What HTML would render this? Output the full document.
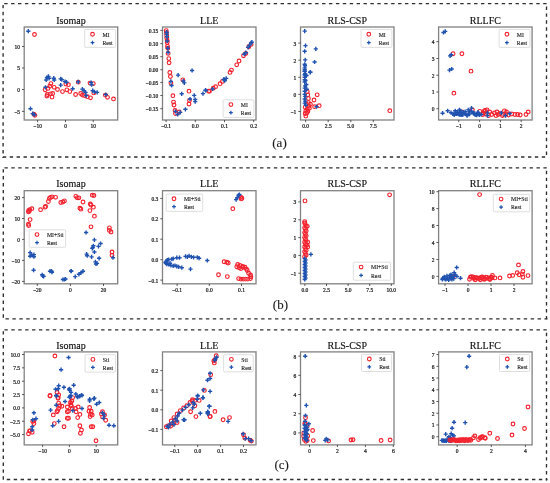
<!DOCTYPE html><html><head><meta charset="utf-8"><style>html,body{margin:0;padding:0;background:#fff;width:550px;height:483px;overflow:hidden}svg{display:block;will-change:transform}text{font-family:"Liberation Serif",serif;fill:#1a1a1a;stroke:#1a1a1a;stroke-width:0.12px}</style></head><body>
<svg width="550" height="483" viewBox="0 0 550 483">
<line x1="4.2" y1="3.6" x2="547.5" y2="3.6" stroke="#2e2e2e" stroke-width="1.35" stroke-dasharray="3.4 3.51"/>
<line x1="2.8" y1="157" x2="547.5" y2="157" stroke="#2e2e2e" stroke-width="1.35" stroke-dasharray="3.4 3.51"/>
<line x1="3.1" y1="4.9" x2="3.1" y2="158" stroke="#2e2e2e" stroke-width="1.35" stroke-dasharray="3.4 3.51"/>
<line x1="546.5" y1="6.5" x2="546.5" y2="158" stroke="#2e2e2e" stroke-width="1.35" stroke-dasharray="3.4 3.51"/>
<line x1="4.4" y1="167.9" x2="547.5" y2="167.9" stroke="#2e2e2e" stroke-width="1.35" stroke-dasharray="3.4 3.51"/>
<line x1="5.5" y1="318.9" x2="547.5" y2="318.9" stroke="#2e2e2e" stroke-width="1.35" stroke-dasharray="3.4 3.51"/>
<line x1="3.3" y1="169.2" x2="3.3" y2="319.9" stroke="#2e2e2e" stroke-width="1.35" stroke-dasharray="3.4 3.51"/>
<line x1="546.5" y1="170.8" x2="546.5" y2="319.9" stroke="#2e2e2e" stroke-width="1.35" stroke-dasharray="3.4 3.51"/>
<line x1="4.4" y1="329.9" x2="547.5" y2="329.9" stroke="#2e2e2e" stroke-width="1.35" stroke-dasharray="3.4 3.51"/>
<line x1="6.8" y1="479.5" x2="547.5" y2="479.5" stroke="#2e2e2e" stroke-width="1.35" stroke-dasharray="3.4 3.51"/>
<line x1="3.3" y1="331.2" x2="3.3" y2="480.5" stroke="#2e2e2e" stroke-width="1.35" stroke-dasharray="3.4 3.51"/>
<line x1="546.5" y1="332.8" x2="546.5" y2="480.5" stroke="#2e2e2e" stroke-width="1.35" stroke-dasharray="3.4 3.51"/>
<text x="279.5" y="147.4" font-size="13" text-anchor="middle">(a)</text>
<text x="280.4" y="308.8" font-size="13" text-anchor="middle">(b)</text>
<text x="281.6" y="468.8" font-size="13" text-anchor="middle">(c)</text>
<circle cx="34.5" cy="34.5" r="1.85" fill="none" stroke="#f2232f" stroke-width="1.15"/>
<circle cx="34.9" cy="115.3" r="1.85" fill="none" stroke="#f2232f" stroke-width="1.15"/>
<circle cx="33.8" cy="114.2" r="1.85" fill="none" stroke="#f2232f" stroke-width="1.15"/>
<circle cx="90" cy="83.1" r="1.85" fill="none" stroke="#f2232f" stroke-width="1.15"/>
<circle cx="93.3" cy="83.6" r="1.85" fill="none" stroke="#f2232f" stroke-width="1.15"/>
<circle cx="80.7" cy="93.5" r="1.85" fill="none" stroke="#f2232f" stroke-width="1.15"/>
<circle cx="82.4" cy="95.1" r="1.85" fill="none" stroke="#f2232f" stroke-width="1.15"/>
<circle cx="84.5" cy="95.6" r="1.85" fill="none" stroke="#f2232f" stroke-width="1.15"/>
<circle cx="87.3" cy="96.7" r="1.85" fill="none" stroke="#f2232f" stroke-width="1.15"/>
<circle cx="90.5" cy="97.8" r="1.85" fill="none" stroke="#f2232f" stroke-width="1.15"/>
<circle cx="93.8" cy="92.9" r="1.85" fill="none" stroke="#f2232f" stroke-width="1.15"/>
<circle cx="107.5" cy="97.3" r="1.85" fill="none" stroke="#f2232f" stroke-width="1.15"/>
<circle cx="113.5" cy="98.9" r="1.85" fill="none" stroke="#f2232f" stroke-width="1.15"/>
<circle cx="105.3" cy="95.1" r="1.85" fill="none" stroke="#f2232f" stroke-width="1.15"/>
<circle cx="50.9" cy="83.6" r="1.85" fill="none" stroke="#f2232f" stroke-width="1.15"/>
<circle cx="49.8" cy="86.2" r="1.85" fill="none" stroke="#f2232f" stroke-width="1.15"/>
<circle cx="54.2" cy="87.3" r="1.85" fill="none" stroke="#f2232f" stroke-width="1.15"/>
<circle cx="57.5" cy="89.5" r="1.85" fill="none" stroke="#f2232f" stroke-width="1.15"/>
<circle cx="45.1" cy="89.8" r="1.85" fill="none" stroke="#f2232f" stroke-width="1.15"/>
<circle cx="48" cy="88.4" r="1.85" fill="none" stroke="#f2232f" stroke-width="1.15"/>
<circle cx="62.5" cy="91.6" r="1.85" fill="none" stroke="#f2232f" stroke-width="1.15"/>
<circle cx="65.8" cy="84" r="1.85" fill="none" stroke="#f2232f" stroke-width="1.15"/>
<circle cx="68.4" cy="84.7" r="1.85" fill="none" stroke="#f2232f" stroke-width="1.15"/>
<circle cx="66.9" cy="89.8" r="1.85" fill="none" stroke="#f2232f" stroke-width="1.15"/>
<circle cx="69.8" cy="91.6" r="1.85" fill="none" stroke="#f2232f" stroke-width="1.15"/>
<circle cx="75.6" cy="94.5" r="1.85" fill="none" stroke="#f2232f" stroke-width="1.15"/>
<circle cx="78.2" cy="82.2" r="1.85" fill="none" stroke="#f2232f" stroke-width="1.15"/>
<circle cx="47.3" cy="94.5" r="1.85" fill="none" stroke="#f2232f" stroke-width="1.15"/>
<circle cx="50.5" cy="93.8" r="1.85" fill="none" stroke="#f2232f" stroke-width="1.15"/>
<circle cx="52.7" cy="93.5" r="1.85" fill="none" stroke="#f2232f" stroke-width="1.15"/>
<circle cx="52" cy="97.1" r="1.85" fill="none" stroke="#f2232f" stroke-width="1.15"/>
<circle cx="46.9" cy="96" r="1.85" fill="none" stroke="#f2232f" stroke-width="1.15"/>
<path d="M27.6,29.1h1.4v1.4h1.4v1.4h-1.4v1.4h-1.4v-1.4h-1.4v-1.4h1.4z" fill="#2052b0"/>
<path d="M29.8,106.6h1.4v1.4h1.4v1.4h-1.4v1.4h-1.4v-1.4h-1.4v-1.4h1.4z" fill="#2052b0"/>
<path d="M32,111.5h1.4v1.4h1.4v1.4h-1.4v1.4h-1.4v-1.4h-1.4v-1.4h1.4z" fill="#2052b0"/>
<path d="M33.7,112.6h1.4v1.4h1.4v1.4h-1.4v1.4h-1.4v-1.4h-1.4v-1.4h1.4z" fill="#2052b0"/>
<path d="M90.4,80.4h1.4v1.4h1.4v1.4h-1.4v1.4h-1.4v-1.4h-1.4v-1.4h1.4z" fill="#2052b0"/>
<path d="M90.9,82.6h1.4v1.4h1.4v1.4h-1.4v1.4h-1.4v-1.4h-1.4v-1.4h1.4z" fill="#2052b0"/>
<path d="M81.7,87h1.4v1.4h1.4v1.4h-1.4v1.4h-1.4v-1.4h-1.4v-1.4h1.4z" fill="#2052b0"/>
<path d="M83.3,88.6h1.4v1.4h1.4v1.4h-1.4v1.4h-1.4v-1.4h-1.4v-1.4h1.4z" fill="#2052b0"/>
<path d="M84.9,90.3h1.4v1.4h1.4v1.4h-1.4v1.4h-1.4v-1.4h-1.4v-1.4h1.4z" fill="#2052b0"/>
<path d="M85.5,93.5h1.4v1.4h1.4v1.4h-1.4v1.4h-1.4v-1.4h-1.4v-1.4h1.4z" fill="#2052b0"/>
<path d="M92,88.6h1.4v1.4h1.4v1.4h-1.4v1.4h-1.4v-1.4h-1.4v-1.4h1.4z" fill="#2052b0"/>
<path d="M93.7,89.7h1.4v1.4h1.4v1.4h-1.4v1.4h-1.4v-1.4h-1.4v-1.4h1.4z" fill="#2052b0"/>
<path d="M96.4,90.3h1.4v1.4h1.4v1.4h-1.4v1.4h-1.4v-1.4h-1.4v-1.4h1.4z" fill="#2052b0"/>
<path d="M105.1,92.4h1.4v1.4h1.4v1.4h-1.4v1.4h-1.4v-1.4h-1.4v-1.4h1.4z" fill="#2052b0"/>
<path d="M47.7,74.3h1.4v1.4h1.4v1.4h-1.4v1.4h-1.4v-1.4h-1.4v-1.4h1.4z" fill="#2052b0"/>
<path d="M46.2,75.4h1.4v1.4h1.4v1.4h-1.4v1.4h-1.4v-1.4h-1.4v-1.4h1.4z" fill="#2052b0"/>
<path d="M45.5,77.9h1.4v1.4h1.4v1.4h-1.4v1.4h-1.4v-1.4h-1.4v-1.4h1.4z" fill="#2052b0"/>
<path d="M48.4,76.1h1.4v1.4h1.4v1.4h-1.4v1.4h-1.4v-1.4h-1.4v-1.4h1.4z" fill="#2052b0"/>
<path d="M53.1,76.1h1.4v1.4h1.4v1.4h-1.4v1.4h-1.4v-1.4h-1.4v-1.4h1.4z" fill="#2052b0"/>
<path d="M53.5,77.9h1.4v1.4h1.4v1.4h-1.4v1.4h-1.4v-1.4h-1.4v-1.4h1.4z" fill="#2052b0"/>
<path d="M60,76.8h1.4v1.4h1.4v1.4h-1.4v1.4h-1.4v-1.4h-1.4v-1.4h1.4z" fill="#2052b0"/>
<path d="M61.1,77.5h1.4v1.4h1.4v1.4h-1.4v1.4h-1.4v-1.4h-1.4v-1.4h1.4z" fill="#2052b0"/>
<path d="M64.4,79.4h1.4v1.4h1.4v1.4h-1.4v1.4h-1.4v-1.4h-1.4v-1.4h1.4z" fill="#2052b0"/>
<path d="M65.8,80.1h1.4v1.4h1.4v1.4h-1.4v1.4h-1.4v-1.4h-1.4v-1.4h1.4z" fill="#2052b0"/>
<path d="M60,83h1.4v1.4h1.4v1.4h-1.4v1.4h-1.4v-1.4h-1.4v-1.4h1.4z" fill="#2052b0"/>
<path d="M72,86.6h1.4v1.4h1.4v1.4h-1.4v1.4h-1.4v-1.4h-1.4v-1.4h1.4z" fill="#2052b0"/>
<path d="M77.5,79.7h1.4v1.4h1.4v1.4h-1.4v1.4h-1.4v-1.4h-1.4v-1.4h1.4z" fill="#2052b0"/>
<path d="M44.8,85.2h1.4v1.4h1.4v1.4h-1.4v1.4h-1.4v-1.4h-1.4v-1.4h1.4z" fill="#2052b0"/>
<rect x="24.2" y="27" width="93.5" height="93" fill="none" stroke="#828282" stroke-width="1.3"/>
<line x1="22" y1="46.5" x2="24.2" y2="46.5" stroke="#333" stroke-width="0.8"/>
<text x="20" y="48.97" font-size="5.5" text-anchor="end" style="stroke-width:0.22px">10</text>
<line x1="22" y1="68" x2="24.2" y2="68" stroke="#333" stroke-width="0.8"/>
<text x="20" y="70.47" font-size="5.5" text-anchor="end" style="stroke-width:0.22px">5</text>
<line x1="22" y1="89.5" x2="24.2" y2="89.5" stroke="#333" stroke-width="0.8"/>
<text x="20" y="91.97" font-size="5.5" text-anchor="end" style="stroke-width:0.22px">0</text>
<line x1="22" y1="111.4" x2="24.2" y2="111.4" stroke="#333" stroke-width="0.8"/>
<text x="20" y="113.87" font-size="5.5" text-anchor="end" style="stroke-width:0.22px">−5</text>
<line x1="37.6" y1="120" x2="37.6" y2="122.2" stroke="#333" stroke-width="0.8"/>
<text x="37.6" y="128.26" font-size="5.5" text-anchor="middle" style="stroke-width:0.22px">−10</text>
<line x1="65.5" y1="120" x2="65.5" y2="122.2" stroke="#333" stroke-width="0.8"/>
<text x="65.5" y="128.26" font-size="5.5" text-anchor="middle" style="stroke-width:0.22px">0</text>
<line x1="93.2" y1="120" x2="93.2" y2="122.2" stroke="#333" stroke-width="0.8"/>
<text x="93.2" y="128.26" font-size="5.5" text-anchor="middle" style="stroke-width:0.22px">10</text>
<text x="70.95" y="23.6" font-size="10" text-anchor="middle" style="fill:#111;stroke:#111;stroke-width:0.15px">Isomap</text>
<rect x="84.7" y="29.4" width="30.9" height="18" rx="1" fill="#fff" fill-opacity="0.8" stroke="#d6d6d6" stroke-width="0.8"/>
<circle cx="92.5" cy="34.26" r="1.85" fill="none" stroke="#f2232f" stroke-width="1.1"/>
<path transform="translate(92.5 42.54) scale(0.9)" d="M-0.7,-2.1h1.4v1.4h1.4v1.4h-1.4v1.4h-1.4v-1.4h-1.4v-1.4h1.4z" fill="#2052b0"/>
<text x="102.4" y="36.58" font-size="5.8">MI</text>
<text x="102.4" y="44.86" font-size="5.8">Rest</text>
<circle cx="166.2" cy="30.6" r="1.85" fill="none" stroke="#f2232f" stroke-width="1.15"/>
<circle cx="166.4" cy="32.7" r="1.85" fill="none" stroke="#f2232f" stroke-width="1.15"/>
<circle cx="166.7" cy="35.3" r="1.85" fill="none" stroke="#f2232f" stroke-width="1.15"/>
<circle cx="166.7" cy="37.9" r="1.85" fill="none" stroke="#f2232f" stroke-width="1.15"/>
<circle cx="167.2" cy="40.5" r="1.85" fill="none" stroke="#f2232f" stroke-width="1.15"/>
<circle cx="167.2" cy="42.5" r="1.85" fill="none" stroke="#f2232f" stroke-width="1.15"/>
<circle cx="167.5" cy="46.2" r="1.85" fill="none" stroke="#f2232f" stroke-width="1.15"/>
<circle cx="167.8" cy="48.2" r="1.85" fill="none" stroke="#f2232f" stroke-width="1.15"/>
<circle cx="168.1" cy="53.4" r="1.85" fill="none" stroke="#f2232f" stroke-width="1.15"/>
<circle cx="168.8" cy="58.6" r="1.85" fill="none" stroke="#f2232f" stroke-width="1.15"/>
<circle cx="169.1" cy="62.7" r="1.85" fill="none" stroke="#f2232f" stroke-width="1.15"/>
<circle cx="169.8" cy="72.5" r="1.85" fill="none" stroke="#f2232f" stroke-width="1.15"/>
<circle cx="170.4" cy="76.5" r="1.85" fill="none" stroke="#f2232f" stroke-width="1.15"/>
<circle cx="170.9" cy="82.9" r="1.85" fill="none" stroke="#f2232f" stroke-width="1.15"/>
<circle cx="182.8" cy="79.8" r="1.85" fill="none" stroke="#f2232f" stroke-width="1.15"/>
<circle cx="189" cy="91.2" r="1.85" fill="none" stroke="#f2232f" stroke-width="1.15"/>
<circle cx="172.9" cy="95.7" r="1.85" fill="none" stroke="#f2232f" stroke-width="1.15"/>
<circle cx="173.5" cy="102.1" r="1.85" fill="none" stroke="#f2232f" stroke-width="1.15"/>
<circle cx="174" cy="105" r="1.85" fill="none" stroke="#f2232f" stroke-width="1.15"/>
<circle cx="189.5" cy="100.5" r="1.85" fill="none" stroke="#f2232f" stroke-width="1.15"/>
<circle cx="189" cy="104" r="1.85" fill="none" stroke="#f2232f" stroke-width="1.15"/>
<circle cx="175" cy="110.4" r="1.85" fill="none" stroke="#f2232f" stroke-width="1.15"/>
<circle cx="175.5" cy="113.5" r="1.85" fill="none" stroke="#f2232f" stroke-width="1.15"/>
<circle cx="179.2" cy="111.9" r="1.85" fill="none" stroke="#f2232f" stroke-width="1.15"/>
<circle cx="208.7" cy="91.2" r="1.85" fill="none" stroke="#f2232f" stroke-width="1.15"/>
<circle cx="209.5" cy="91.2" r="1.85" fill="none" stroke="#f2232f" stroke-width="1.15"/>
<circle cx="213.3" cy="88.2" r="1.85" fill="none" stroke="#f2232f" stroke-width="1.15"/>
<circle cx="215.6" cy="86.7" r="1.85" fill="none" stroke="#f2232f" stroke-width="1.15"/>
<circle cx="220.1" cy="83.7" r="1.85" fill="none" stroke="#f2232f" stroke-width="1.15"/>
<circle cx="222.4" cy="81.4" r="1.85" fill="none" stroke="#f2232f" stroke-width="1.15"/>
<circle cx="230" cy="72.4" r="1.85" fill="none" stroke="#f2232f" stroke-width="1.15"/>
<circle cx="231.5" cy="70.1" r="1.85" fill="none" stroke="#f2232f" stroke-width="1.15"/>
<circle cx="236.7" cy="64.8" r="1.85" fill="none" stroke="#f2232f" stroke-width="1.15"/>
<circle cx="239" cy="61" r="1.85" fill="none" stroke="#f2232f" stroke-width="1.15"/>
<circle cx="243.5" cy="55.7" r="1.85" fill="none" stroke="#f2232f" stroke-width="1.15"/>
<circle cx="245.8" cy="53.5" r="1.85" fill="none" stroke="#f2232f" stroke-width="1.15"/>
<circle cx="248.8" cy="46.7" r="1.85" fill="none" stroke="#f2232f" stroke-width="1.15"/>
<circle cx="251.1" cy="44.4" r="1.85" fill="none" stroke="#f2232f" stroke-width="1.15"/>
<path d="M166,30.1h1.4v1.4h1.4v1.4h-1.4v1.4h-1.4v-1.4h-1.4v-1.4h1.4z" fill="#2052b0"/>
<path d="M166,32.1h1.4v1.4h1.4v1.4h-1.4v1.4h-1.4v-1.4h-1.4v-1.4h1.4z" fill="#2052b0"/>
<path d="M166.3,34.7h1.4v1.4h1.4v1.4h-1.4v1.4h-1.4v-1.4h-1.4v-1.4h1.4z" fill="#2052b0"/>
<path d="M166.5,38.9h1.4v1.4h1.4v1.4h-1.4v1.4h-1.4v-1.4h-1.4v-1.4h1.4z" fill="#2052b0"/>
<path d="M167.1,46.1h1.4v1.4h1.4v1.4h-1.4v1.4h-1.4v-1.4h-1.4v-1.4h1.4z" fill="#2052b0"/>
<path d="M167.4,50.3h1.4v1.4h1.4v1.4h-1.4v1.4h-1.4v-1.4h-1.4v-1.4h1.4z" fill="#2052b0"/>
<path d="M177.4,73h1.4v1.4h1.4v1.4h-1.4v1.4h-1.4v-1.4h-1.4v-1.4h1.4z" fill="#2052b0"/>
<path d="M191.4,68.4h1.4v1.4h1.4v1.4h-1.4v1.4h-1.4v-1.4h-1.4v-1.4h1.4z" fill="#2052b0"/>
<path d="M170.2,79.3h1.4v1.4h1.4v1.4h-1.4v1.4h-1.4v-1.4h-1.4v-1.4h1.4z" fill="#2052b0"/>
<path d="M170.9,83.4h1.4v1.4h1.4v1.4h-1.4v1.4h-1.4v-1.4h-1.4v-1.4h1.4z" fill="#2052b0"/>
<path d="M182.6,78.8h1.4v1.4h1.4v1.4h-1.4v1.4h-1.4v-1.4h-1.4v-1.4h1.4z" fill="#2052b0"/>
<path d="M183.6,80.8h1.4v1.4h1.4v1.4h-1.4v1.4h-1.4v-1.4h-1.4v-1.4h1.4z" fill="#2052b0"/>
<path d="M181,91.7h1.4v1.4h1.4v1.4h-1.4v1.4h-1.4v-1.4h-1.4v-1.4h1.4z" fill="#2052b0"/>
<path d="M193.5,93.3h1.4v1.4h1.4v1.4h-1.4v1.4h-1.4v-1.4h-1.4v-1.4h1.4z" fill="#2052b0"/>
<path d="M189.3,96.9h1.4v1.4h1.4v1.4h-1.4v1.4h-1.4v-1.4h-1.4v-1.4h1.4z" fill="#2052b0"/>
<path d="M194.5,97.4h1.4v1.4h1.4v1.4h-1.4v1.4h-1.4v-1.4h-1.4v-1.4h1.4z" fill="#2052b0"/>
<path d="M194.5,99.5h1.4v1.4h1.4v1.4h-1.4v1.4h-1.4v-1.4h-1.4v-1.4h1.4z" fill="#2052b0"/>
<path d="M184.7,107.2h1.4v1.4h1.4v1.4h-1.4v1.4h-1.4v-1.4h-1.4v-1.4h1.4z" fill="#2052b0"/>
<path d="M174.8,109.3h1.4v1.4h1.4v1.4h-1.4v1.4h-1.4v-1.4h-1.4v-1.4h1.4z" fill="#2052b0"/>
<path d="M176.9,112.4h1.4v1.4h1.4v1.4h-1.4v1.4h-1.4v-1.4h-1.4v-1.4h1.4z" fill="#2052b0"/>
<path d="M179.5,110.3h1.4v1.4h1.4v1.4h-1.4v1.4h-1.4v-1.4h-1.4v-1.4h1.4z" fill="#2052b0"/>
<path d="M202.3,91.5h1.4v1.4h1.4v1.4h-1.4v1.4h-1.4v-1.4h-1.4v-1.4h1.4z" fill="#2052b0"/>
<path d="M204.8,88.1h1.4v1.4h1.4v1.4h-1.4v1.4h-1.4v-1.4h-1.4v-1.4h1.4z" fill="#2052b0"/>
<path d="M205.1,88.4h1.4v1.4h1.4v1.4h-1.4v1.4h-1.4v-1.4h-1.4v-1.4h1.4z" fill="#2052b0"/>
<path d="M211.9,86.9h1.4v1.4h1.4v1.4h-1.4v1.4h-1.4v-1.4h-1.4v-1.4h1.4z" fill="#2052b0"/>
<path d="M223.2,77.1h1.4v1.4h1.4v1.4h-1.4v1.4h-1.4v-1.4h-1.4v-1.4h1.4z" fill="#2052b0"/>
<path d="M225.5,76.3h1.4v1.4h1.4v1.4h-1.4v1.4h-1.4v-1.4h-1.4v-1.4h1.4z" fill="#2052b0"/>
<path d="M224,78.6h1.4v1.4h1.4v1.4h-1.4v1.4h-1.4v-1.4h-1.4v-1.4h1.4z" fill="#2052b0"/>
<path d="M243.6,52.1h1.4v1.4h1.4v1.4h-1.4v1.4h-1.4v-1.4h-1.4v-1.4h1.4z" fill="#2052b0"/>
<path d="M245.1,50.6h1.4v1.4h1.4v1.4h-1.4v1.4h-1.4v-1.4h-1.4v-1.4h1.4z" fill="#2052b0"/>
<path d="M247.4,45.3h1.4v1.4h1.4v1.4h-1.4v1.4h-1.4v-1.4h-1.4v-1.4h1.4z" fill="#2052b0"/>
<path d="M248.9,43h1.4v1.4h1.4v1.4h-1.4v1.4h-1.4v-1.4h-1.4v-1.4h1.4z" fill="#2052b0"/>
<path d="M250.4,40.8h1.4v1.4h1.4v1.4h-1.4v1.4h-1.4v-1.4h-1.4v-1.4h1.4z" fill="#2052b0"/>
<path d="M251.2,40h1.4v1.4h1.4v1.4h-1.4v1.4h-1.4v-1.4h-1.4v-1.4h1.4z" fill="#2052b0"/>
<rect x="162.5" y="27" width="93.5" height="93" fill="none" stroke="#828282" stroke-width="1.3"/>
<line x1="160.3" y1="30.4" x2="162.5" y2="30.4" stroke="#333" stroke-width="0.8"/>
<text x="158.3" y="32.87" font-size="5.5" text-anchor="end" style="stroke-width:0.22px">0.15</text>
<line x1="160.3" y1="43.6" x2="162.5" y2="43.6" stroke="#333" stroke-width="0.8"/>
<text x="158.3" y="46.07" font-size="5.5" text-anchor="end" style="stroke-width:0.22px">0.10</text>
<line x1="160.3" y1="56.7" x2="162.5" y2="56.7" stroke="#333" stroke-width="0.8"/>
<text x="158.3" y="59.17" font-size="5.5" text-anchor="end" style="stroke-width:0.22px">0.05</text>
<line x1="160.3" y1="69.7" x2="162.5" y2="69.7" stroke="#333" stroke-width="0.8"/>
<text x="158.3" y="72.17" font-size="5.5" text-anchor="end" style="stroke-width:0.22px">0.00</text>
<line x1="160.3" y1="82.4" x2="162.5" y2="82.4" stroke="#333" stroke-width="0.8"/>
<text x="158.3" y="84.87" font-size="5.5" text-anchor="end" style="stroke-width:0.22px">−0.05</text>
<line x1="160.3" y1="95.5" x2="162.5" y2="95.5" stroke="#333" stroke-width="0.8"/>
<text x="158.3" y="97.97" font-size="5.5" text-anchor="end" style="stroke-width:0.22px">−0.10</text>
<line x1="160.3" y1="108.7" x2="162.5" y2="108.7" stroke="#333" stroke-width="0.8"/>
<text x="158.3" y="111.17" font-size="5.5" text-anchor="end" style="stroke-width:0.22px">−0.15</text>
<line x1="166.1" y1="120" x2="166.1" y2="122.2" stroke="#333" stroke-width="0.8"/>
<text x="166.1" y="128.26" font-size="5.5" text-anchor="middle" style="stroke-width:0.22px">−0.1</text>
<line x1="195.3" y1="120" x2="195.3" y2="122.2" stroke="#333" stroke-width="0.8"/>
<text x="195.3" y="128.26" font-size="5.5" text-anchor="middle" style="stroke-width:0.22px">0.0</text>
<line x1="224.5" y1="120" x2="224.5" y2="122.2" stroke="#333" stroke-width="0.8"/>
<text x="224.5" y="128.26" font-size="5.5" text-anchor="middle" style="stroke-width:0.22px">0.1</text>
<line x1="253.7" y1="120" x2="253.7" y2="122.2" stroke="#333" stroke-width="0.8"/>
<text x="253.7" y="128.26" font-size="5.5" text-anchor="middle" style="stroke-width:0.22px">0.2</text>
<text x="209.25" y="23.6" font-size="10" text-anchor="middle" style="fill:#111;stroke:#111;stroke-width:0.15px">LLE</text>
<rect x="223.1" y="99.8" width="30.8" height="17.6" rx="1" fill="#fff" fill-opacity="0.8" stroke="#d6d6d6" stroke-width="0.8"/>
<circle cx="230.9" cy="104.55" r="1.85" fill="none" stroke="#f2232f" stroke-width="1.1"/>
<path transform="translate(230.9 112.65) scale(0.9)" d="M-0.7,-2.1h1.4v1.4h1.4v1.4h-1.4v1.4h-1.4v-1.4h-1.4v-1.4h1.4z" fill="#2052b0"/>
<text x="240.8" y="106.87" font-size="5.8">MI</text>
<text x="240.8" y="114.97" font-size="5.8">Rest</text>
<circle cx="307.3" cy="91.7" r="1.85" fill="none" stroke="#f2232f" stroke-width="1.15"/>
<circle cx="307.8" cy="94.8" r="1.85" fill="none" stroke="#f2232f" stroke-width="1.15"/>
<circle cx="317.2" cy="94.8" r="1.85" fill="none" stroke="#f2232f" stroke-width="1.15"/>
<circle cx="308.4" cy="98.5" r="1.85" fill="none" stroke="#f2232f" stroke-width="1.15"/>
<circle cx="314" cy="100" r="1.85" fill="none" stroke="#f2232f" stroke-width="1.15"/>
<circle cx="310.4" cy="104.2" r="1.85" fill="none" stroke="#f2232f" stroke-width="1.15"/>
<circle cx="308.4" cy="102.6" r="1.85" fill="none" stroke="#f2232f" stroke-width="1.15"/>
<circle cx="314.6" cy="106.7" r="1.85" fill="none" stroke="#f2232f" stroke-width="1.15"/>
<circle cx="319.2" cy="105.7" r="1.85" fill="none" stroke="#f2232f" stroke-width="1.15"/>
<circle cx="305.2" cy="107.3" r="1.85" fill="none" stroke="#f2232f" stroke-width="1.15"/>
<circle cx="307.3" cy="108.8" r="1.85" fill="none" stroke="#f2232f" stroke-width="1.15"/>
<circle cx="309.4" cy="108.3" r="1.85" fill="none" stroke="#f2232f" stroke-width="1.15"/>
<circle cx="305.8" cy="110.9" r="1.85" fill="none" stroke="#f2232f" stroke-width="1.15"/>
<circle cx="307.8" cy="111.4" r="1.85" fill="none" stroke="#f2232f" stroke-width="1.15"/>
<circle cx="305.2" cy="113.5" r="1.85" fill="none" stroke="#f2232f" stroke-width="1.15"/>
<circle cx="306.8" cy="113" r="1.85" fill="none" stroke="#f2232f" stroke-width="1.15"/>
<circle cx="305.8" cy="116.1" r="1.85" fill="none" stroke="#f2232f" stroke-width="1.15"/>
<circle cx="308.9" cy="106.2" r="1.85" fill="none" stroke="#f2232f" stroke-width="1.15"/>
<circle cx="306.3" cy="104.2" r="1.85" fill="none" stroke="#f2232f" stroke-width="1.15"/>
<circle cx="389.8" cy="110.7" r="1.85" fill="none" stroke="#f2232f" stroke-width="1.15"/>
<path d="M304,29h1.4v1.4h1.4v1.4h-1.4v1.4h-1.4v-1.4h-1.4v-1.4h1.4z" fill="#2052b0"/>
<path d="M304.8,43.5h1.4v1.4h1.4v1.4h-1.4v1.4h-1.4v-1.4h-1.4v-1.4h1.4z" fill="#2052b0"/>
<path d="M315.1,46.8h1.4v1.4h1.4v1.4h-1.4v1.4h-1.4v-1.4h-1.4v-1.4h1.4z" fill="#2052b0"/>
<path d="M304,49.2h1.4v1.4h1.4v1.4h-1.4v1.4h-1.4v-1.4h-1.4v-1.4h1.4z" fill="#2052b0"/>
<path d="M304.5,57.8h1.4v1.4h1.4v1.4h-1.4v1.4h-1.4v-1.4h-1.4v-1.4h1.4z" fill="#2052b0"/>
<path d="M313.9,59.9h1.4v1.4h1.4v1.4h-1.4v1.4h-1.4v-1.4h-1.4v-1.4h1.4z" fill="#2052b0"/>
<path d="M304,62.2h1.4v1.4h1.4v1.4h-1.4v1.4h-1.4v-1.4h-1.4v-1.4h1.4z" fill="#2052b0"/>
<path d="M304.3,63.7h1.4v1.4h1.4v1.4h-1.4v1.4h-1.4v-1.4h-1.4v-1.4h1.4z" fill="#2052b0"/>
<path d="M304,65.8h1.4v1.4h1.4v1.4h-1.4v1.4h-1.4v-1.4h-1.4v-1.4h1.4z" fill="#2052b0"/>
<path d="M304,67.3h1.4v1.4h1.4v1.4h-1.4v1.4h-1.4v-1.4h-1.4v-1.4h1.4z" fill="#2052b0"/>
<path d="M304,69.4h1.4v1.4h1.4v1.4h-1.4v1.4h-1.4v-1.4h-1.4v-1.4h1.4z" fill="#2052b0"/>
<path d="M309.5,70.2h1.4v1.4h1.4v1.4h-1.4v1.4h-1.4v-1.4h-1.4v-1.4h1.4z" fill="#2052b0"/>
<path d="M304.5,71.5h1.4v1.4h1.4v1.4h-1.4v1.4h-1.4v-1.4h-1.4v-1.4h1.4z" fill="#2052b0"/>
<path d="M304.3,73h1.4v1.4h1.4v1.4h-1.4v1.4h-1.4v-1.4h-1.4v-1.4h1.4z" fill="#2052b0"/>
<path d="M305.6,73.6h1.4v1.4h1.4v1.4h-1.4v1.4h-1.4v-1.4h-1.4v-1.4h1.4z" fill="#2052b0"/>
<path d="M304,68.9h1.4v1.4h1.4v1.4h-1.4v1.4h-1.4v-1.4h-1.4v-1.4h1.4z" fill="#2052b0"/>
<path d="M309.7,70h1.4v1.4h1.4v1.4h-1.4v1.4h-1.4v-1.4h-1.4v-1.4h1.4z" fill="#2052b0"/>
<path d="M304,72.6h1.4v1.4h1.4v1.4h-1.4v1.4h-1.4v-1.4h-1.4v-1.4h1.4z" fill="#2052b0"/>
<path d="M305.6,73.1h1.4v1.4h1.4v1.4h-1.4v1.4h-1.4v-1.4h-1.4v-1.4h1.4z" fill="#2052b0"/>
<path d="M304,75.1h1.4v1.4h1.4v1.4h-1.4v1.4h-1.4v-1.4h-1.4v-1.4h1.4z" fill="#2052b0"/>
<path d="M304,77.7h1.4v1.4h1.4v1.4h-1.4v1.4h-1.4v-1.4h-1.4v-1.4h1.4z" fill="#2052b0"/>
<path d="M305.6,82.4h1.4v1.4h1.4v1.4h-1.4v1.4h-1.4v-1.4h-1.4v-1.4h1.4z" fill="#2052b0"/>
<path d="M304.5,83.9h1.4v1.4h1.4v1.4h-1.4v1.4h-1.4v-1.4h-1.4v-1.4h1.4z" fill="#2052b0"/>
<path d="M304,86h1.4v1.4h1.4v1.4h-1.4v1.4h-1.4v-1.4h-1.4v-1.4h1.4z" fill="#2052b0"/>
<path d="M306.1,87.1h1.4v1.4h1.4v1.4h-1.4v1.4h-1.4v-1.4h-1.4v-1.4h1.4z" fill="#2052b0"/>
<path d="M304,89.1h1.4v1.4h1.4v1.4h-1.4v1.4h-1.4v-1.4h-1.4v-1.4h1.4z" fill="#2052b0"/>
<path d="M304,92.2h1.4v1.4h1.4v1.4h-1.4v1.4h-1.4v-1.4h-1.4v-1.4h1.4z" fill="#2052b0"/>
<path d="M304.5,94.3h1.4v1.4h1.4v1.4h-1.4v1.4h-1.4v-1.4h-1.4v-1.4h1.4z" fill="#2052b0"/>
<path d="M304,96.9h1.4v1.4h1.4v1.4h-1.4v1.4h-1.4v-1.4h-1.4v-1.4h1.4z" fill="#2052b0"/>
<path d="M304.5,99h1.4v1.4h1.4v1.4h-1.4v1.4h-1.4v-1.4h-1.4v-1.4h1.4z" fill="#2052b0"/>
<path d="M304,101h1.4v1.4h1.4v1.4h-1.4v1.4h-1.4v-1.4h-1.4v-1.4h1.4z" fill="#2052b0"/>
<path d="M305.1,103.1h1.4v1.4h1.4v1.4h-1.4v1.4h-1.4v-1.4h-1.4v-1.4h1.4z" fill="#2052b0"/>
<path d="M315.9,104.6h1.4v1.4h1.4v1.4h-1.4v1.4h-1.4v-1.4h-1.4v-1.4h1.4z" fill="#2052b0"/>
<path d="M304,79.9h1.4v1.4h1.4v1.4h-1.4v1.4h-1.4v-1.4h-1.4v-1.4h1.4z" fill="#2052b0"/>
<path d="M304.8,78.4h1.4v1.4h1.4v1.4h-1.4v1.4h-1.4v-1.4h-1.4v-1.4h1.4z" fill="#2052b0"/>
<rect x="300.5" y="27" width="93.5" height="93" fill="none" stroke="#828282" stroke-width="1.3"/>
<line x1="298.3" y1="43.1" x2="300.5" y2="43.1" stroke="#333" stroke-width="0.8"/>
<text x="296.3" y="45.57" font-size="5.5" text-anchor="end" style="stroke-width:0.22px">3</text>
<line x1="298.3" y1="60.2" x2="300.5" y2="60.2" stroke="#333" stroke-width="0.8"/>
<text x="296.3" y="62.67" font-size="5.5" text-anchor="end" style="stroke-width:0.22px">2</text>
<line x1="298.3" y1="77.3" x2="300.5" y2="77.3" stroke="#333" stroke-width="0.8"/>
<text x="296.3" y="79.77" font-size="5.5" text-anchor="end" style="stroke-width:0.22px">1</text>
<line x1="298.3" y1="94.4" x2="300.5" y2="94.4" stroke="#333" stroke-width="0.8"/>
<text x="296.3" y="96.87" font-size="5.5" text-anchor="end" style="stroke-width:0.22px">0</text>
<line x1="298.3" y1="111.5" x2="300.5" y2="111.5" stroke="#333" stroke-width="0.8"/>
<text x="296.3" y="113.97" font-size="5.5" text-anchor="end" style="stroke-width:0.22px">−1</text>
<line x1="305.6" y1="120" x2="305.6" y2="122.2" stroke="#333" stroke-width="0.8"/>
<text x="305.6" y="128.26" font-size="5.5" text-anchor="middle" style="stroke-width:0.22px">0.0</text>
<line x1="328.2" y1="120" x2="328.2" y2="122.2" stroke="#333" stroke-width="0.8"/>
<text x="328.2" y="128.26" font-size="5.5" text-anchor="middle" style="stroke-width:0.22px">2.5</text>
<line x1="350.8" y1="120" x2="350.8" y2="122.2" stroke="#333" stroke-width="0.8"/>
<text x="350.8" y="128.26" font-size="5.5" text-anchor="middle" style="stroke-width:0.22px">5.0</text>
<line x1="373.3" y1="120" x2="373.3" y2="122.2" stroke="#333" stroke-width="0.8"/>
<text x="373.3" y="128.26" font-size="5.5" text-anchor="middle" style="stroke-width:0.22px">7.5</text>
<text x="347.25" y="23.6" font-size="10" text-anchor="middle" style="fill:#111;stroke:#111;stroke-width:0.15px">RLS-CSP</text>
<rect x="361" y="29.4" width="30.9" height="18" rx="1" fill="#fff" fill-opacity="0.8" stroke="#d6d6d6" stroke-width="0.8"/>
<circle cx="368.8" cy="34.26" r="1.85" fill="none" stroke="#f2232f" stroke-width="1.1"/>
<path transform="translate(368.8 42.54) scale(0.9)" d="M-0.7,-2.1h1.4v1.4h1.4v1.4h-1.4v1.4h-1.4v-1.4h-1.4v-1.4h1.4z" fill="#2052b0"/>
<text x="378.7" y="36.58" font-size="5.8">MI</text>
<text x="378.7" y="44.86" font-size="5.8">Rest</text>
<circle cx="453.1" cy="53.7" r="1.85" fill="none" stroke="#f2232f" stroke-width="1.15"/>
<circle cx="461.9" cy="53.7" r="1.85" fill="none" stroke="#f2232f" stroke-width="1.15"/>
<circle cx="471" cy="71.2" r="1.85" fill="none" stroke="#f2232f" stroke-width="1.15"/>
<circle cx="453.9" cy="93.2" r="1.85" fill="none" stroke="#f2232f" stroke-width="1.15"/>
<circle cx="462.1" cy="111.8" r="1.85" fill="none" stroke="#f2232f" stroke-width="1.15"/>
<circle cx="472.4" cy="109.9" r="1.85" fill="none" stroke="#f2232f" stroke-width="1.15"/>
<circle cx="479.8" cy="111.3" r="1.85" fill="none" stroke="#f2232f" stroke-width="1.15"/>
<circle cx="483.6" cy="113.2" r="1.85" fill="none" stroke="#f2232f" stroke-width="1.15"/>
<circle cx="485.4" cy="110.4" r="1.85" fill="none" stroke="#f2232f" stroke-width="1.15"/>
<circle cx="485.4" cy="114.1" r="1.85" fill="none" stroke="#f2232f" stroke-width="1.15"/>
<circle cx="484.4" cy="110.8" r="1.85" fill="none" stroke="#f2232f" stroke-width="1.15"/>
<circle cx="487" cy="109.8" r="1.85" fill="none" stroke="#f2232f" stroke-width="1.15"/>
<circle cx="489.7" cy="111.9" r="1.85" fill="none" stroke="#f2232f" stroke-width="1.15"/>
<circle cx="491.8" cy="114.5" r="1.85" fill="none" stroke="#f2232f" stroke-width="1.15"/>
<circle cx="494.4" cy="112.9" r="1.85" fill="none" stroke="#f2232f" stroke-width="1.15"/>
<circle cx="497" cy="111.9" r="1.85" fill="none" stroke="#f2232f" stroke-width="1.15"/>
<circle cx="498.1" cy="114.5" r="1.85" fill="none" stroke="#f2232f" stroke-width="1.15"/>
<circle cx="499.7" cy="113.5" r="1.85" fill="none" stroke="#f2232f" stroke-width="1.15"/>
<circle cx="502.3" cy="115.6" r="1.85" fill="none" stroke="#f2232f" stroke-width="1.15"/>
<circle cx="504.4" cy="110.8" r="1.85" fill="none" stroke="#f2232f" stroke-width="1.15"/>
<circle cx="506" cy="114" r="1.85" fill="none" stroke="#f2232f" stroke-width="1.15"/>
<circle cx="508.6" cy="115" r="1.85" fill="none" stroke="#f2232f" stroke-width="1.15"/>
<circle cx="511.8" cy="114" r="1.85" fill="none" stroke="#f2232f" stroke-width="1.15"/>
<circle cx="515" cy="114.5" r="1.85" fill="none" stroke="#f2232f" stroke-width="1.15"/>
<circle cx="517.6" cy="114.5" r="1.85" fill="none" stroke="#f2232f" stroke-width="1.15"/>
<circle cx="520.2" cy="115" r="1.85" fill="none" stroke="#f2232f" stroke-width="1.15"/>
<circle cx="526" cy="114.5" r="1.85" fill="none" stroke="#f2232f" stroke-width="1.15"/>
<circle cx="528.2" cy="111.9" r="1.85" fill="none" stroke="#f2232f" stroke-width="1.15"/>
<circle cx="482.8" cy="114.5" r="1.85" fill="none" stroke="#f2232f" stroke-width="1.15"/>
<circle cx="488.6" cy="115.6" r="1.85" fill="none" stroke="#f2232f" stroke-width="1.15"/>
<circle cx="496" cy="115.6" r="1.85" fill="none" stroke="#f2232f" stroke-width="1.15"/>
<circle cx="506.5" cy="111.9" r="1.85" fill="none" stroke="#f2232f" stroke-width="1.15"/>
<circle cx="503.4" cy="114.5" r="1.85" fill="none" stroke="#f2232f" stroke-width="1.15"/>
<path d="M442.8,30.4h1.4v1.4h1.4v1.4h-1.4v1.4h-1.4v-1.4h-1.4v-1.4h1.4z" fill="#2052b0"/>
<path d="M444.5,29.3h1.4v1.4h1.4v1.4h-1.4v1.4h-1.4v-1.4h-1.4v-1.4h1.4z" fill="#2052b0"/>
<path d="M449.4,53.8h1.4v1.4h1.4v1.4h-1.4v1.4h-1.4v-1.4h-1.4v-1.4h1.4z" fill="#2052b0"/>
<path d="M450.5,52.7h1.4v1.4h1.4v1.4h-1.4v1.4h-1.4v-1.4h-1.4v-1.4h1.4z" fill="#2052b0"/>
<path d="M448.8,68h1.4v1.4h1.4v1.4h-1.4v1.4h-1.4v-1.4h-1.4v-1.4h1.4z" fill="#2052b0"/>
<path d="M451,66.9h1.4v1.4h1.4v1.4h-1.4v1.4h-1.4v-1.4h-1.4v-1.4h1.4z" fill="#2052b0"/>
<path d="M441.9,111.1h1.4v1.4h1.4v1.4h-1.4v1.4h-1.4v-1.4h-1.4v-1.4h1.4z" fill="#2052b0"/>
<path d="M447,108.7h1.4v1.4h1.4v1.4h-1.4v1.4h-1.4v-1.4h-1.4v-1.4h1.4z" fill="#2052b0"/>
<path d="M450.3,110.6h1.4v1.4h1.4v1.4h-1.4v1.4h-1.4v-1.4h-1.4v-1.4h1.4z" fill="#2052b0"/>
<path d="M454.5,108.7h1.4v1.4h1.4v1.4h-1.4v1.4h-1.4v-1.4h-1.4v-1.4h1.4z" fill="#2052b0"/>
<path d="M454.9,111.1h1.4v1.4h1.4v1.4h-1.4v1.4h-1.4v-1.4h-1.4v-1.4h1.4z" fill="#2052b0"/>
<path d="M453.5,112.9h1.4v1.4h1.4v1.4h-1.4v1.4h-1.4v-1.4h-1.4v-1.4h1.4z" fill="#2052b0"/>
<path d="M456.8,110.1h1.4v1.4h1.4v1.4h-1.4v1.4h-1.4v-1.4h-1.4v-1.4h1.4z" fill="#2052b0"/>
<path d="M458.6,107.8h1.4v1.4h1.4v1.4h-1.4v1.4h-1.4v-1.4h-1.4v-1.4h1.4z" fill="#2052b0"/>
<path d="M460,108.7h1.4v1.4h1.4v1.4h-1.4v1.4h-1.4v-1.4h-1.4v-1.4h1.4z" fill="#2052b0"/>
<path d="M460.5,112.9h1.4v1.4h1.4v1.4h-1.4v1.4h-1.4v-1.4h-1.4v-1.4h1.4z" fill="#2052b0"/>
<path d="M462.4,110.1h1.4v1.4h1.4v1.4h-1.4v1.4h-1.4v-1.4h-1.4v-1.4h1.4z" fill="#2052b0"/>
<path d="M464.2,111.5h1.4v1.4h1.4v1.4h-1.4v1.4h-1.4v-1.4h-1.4v-1.4h1.4z" fill="#2052b0"/>
<path d="M466.1,112.5h1.4v1.4h1.4v1.4h-1.4v1.4h-1.4v-1.4h-1.4v-1.4h1.4z" fill="#2052b0"/>
<path d="M467.5,107.8h1.4v1.4h1.4v1.4h-1.4v1.4h-1.4v-1.4h-1.4v-1.4h1.4z" fill="#2052b0"/>
<path d="M470.8,106h1.4v1.4h1.4v1.4h-1.4v1.4h-1.4v-1.4h-1.4v-1.4h1.4z" fill="#2052b0"/>
<path d="M468.9,112h1.4v1.4h1.4v1.4h-1.4v1.4h-1.4v-1.4h-1.4v-1.4h1.4z" fill="#2052b0"/>
<path d="M472.6,111.1h1.4v1.4h1.4v1.4h-1.4v1.4h-1.4v-1.4h-1.4v-1.4h1.4z" fill="#2052b0"/>
<path d="M474.5,112.9h1.4v1.4h1.4v1.4h-1.4v1.4h-1.4v-1.4h-1.4v-1.4h1.4z" fill="#2052b0"/>
<path d="M477.3,110.1h1.4v1.4h1.4v1.4h-1.4v1.4h-1.4v-1.4h-1.4v-1.4h1.4z" fill="#2052b0"/>
<path d="M478.7,112.9h1.4v1.4h1.4v1.4h-1.4v1.4h-1.4v-1.4h-1.4v-1.4h1.4z" fill="#2052b0"/>
<path d="M457.7,112h1.4v1.4h1.4v1.4h-1.4v1.4h-1.4v-1.4h-1.4v-1.4h1.4z" fill="#2052b0"/>
<path d="M477.4,111.4h1.4v1.4h1.4v1.4h-1.4v1.4h-1.4v-1.4h-1.4v-1.4h1.4z" fill="#2052b0"/>
<path d="M480.5,112.4h1.4v1.4h1.4v1.4h-1.4v1.4h-1.4v-1.4h-1.4v-1.4h1.4z" fill="#2052b0"/>
<path d="M486.8,110.8h1.4v1.4h1.4v1.4h-1.4v1.4h-1.4v-1.4h-1.4v-1.4h1.4z" fill="#2052b0"/>
<path d="M486.8,113.5h1.4v1.4h1.4v1.4h-1.4v1.4h-1.4v-1.4h-1.4v-1.4h1.4z" fill="#2052b0"/>
<path d="M500.6,110.8h1.4v1.4h1.4v1.4h-1.4v1.4h-1.4v-1.4h-1.4v-1.4h1.4z" fill="#2052b0"/>
<path d="M509,111.4h1.4v1.4h1.4v1.4h-1.4v1.4h-1.4v-1.4h-1.4v-1.4h1.4z" fill="#2052b0"/>
<path d="M504.8,113.5h1.4v1.4h1.4v1.4h-1.4v1.4h-1.4v-1.4h-1.4v-1.4h1.4z" fill="#2052b0"/>
<path d="M452.25,111.75h1.4v1.4h1.4v1.4h-1.4v1.4h-1.4v-1.4h-1.4v-1.4h1.4z" fill="#2052b0"/>
<path d="M454.42,111.36h1.4v1.4h1.4v1.4h-1.4v1.4h-1.4v-1.4h-1.4v-1.4h1.4z" fill="#2052b0"/>
<path d="M455.71,111.87h1.4v1.4h1.4v1.4h-1.4v1.4h-1.4v-1.4h-1.4v-1.4h1.4z" fill="#2052b0"/>
<path d="M457.08,111.55h1.4v1.4h1.4v1.4h-1.4v1.4h-1.4v-1.4h-1.4v-1.4h1.4z" fill="#2052b0"/>
<path d="M459.23,112.73h1.4v1.4h1.4v1.4h-1.4v1.4h-1.4v-1.4h-1.4v-1.4h1.4z" fill="#2052b0"/>
<path d="M460.39,110.67h1.4v1.4h1.4v1.4h-1.4v1.4h-1.4v-1.4h-1.4v-1.4h1.4z" fill="#2052b0"/>
<path d="M462.09,112.8h1.4v1.4h1.4v1.4h-1.4v1.4h-1.4v-1.4h-1.4v-1.4h1.4z" fill="#2052b0"/>
<path d="M464.39,109.58h1.4v1.4h1.4v1.4h-1.4v1.4h-1.4v-1.4h-1.4v-1.4h1.4z" fill="#2052b0"/>
<path d="M466.38,113.45h1.4v1.4h1.4v1.4h-1.4v1.4h-1.4v-1.4h-1.4v-1.4h1.4z" fill="#2052b0"/>
<path d="M467.75,111.99h1.4v1.4h1.4v1.4h-1.4v1.4h-1.4v-1.4h-1.4v-1.4h1.4z" fill="#2052b0"/>
<path d="M468.96,109.46h1.4v1.4h1.4v1.4h-1.4v1.4h-1.4v-1.4h-1.4v-1.4h1.4z" fill="#2052b0"/>
<path d="M471.03,109.65h1.4v1.4h1.4v1.4h-1.4v1.4h-1.4v-1.4h-1.4v-1.4h1.4z" fill="#2052b0"/>
<path d="M472.39,110.42h1.4v1.4h1.4v1.4h-1.4v1.4h-1.4v-1.4h-1.4v-1.4h1.4z" fill="#2052b0"/>
<path d="M473.93,111.35h1.4v1.4h1.4v1.4h-1.4v1.4h-1.4v-1.4h-1.4v-1.4h1.4z" fill="#2052b0"/>
<path d="M476.04,112.94h1.4v1.4h1.4v1.4h-1.4v1.4h-1.4v-1.4h-1.4v-1.4h1.4z" fill="#2052b0"/>
<path d="M477.82,112.09h1.4v1.4h1.4v1.4h-1.4v1.4h-1.4v-1.4h-1.4v-1.4h1.4z" fill="#2052b0"/>
<rect x="438.6" y="27" width="93.5" height="93" fill="none" stroke="#828282" stroke-width="1.3"/>
<line x1="436.4" y1="41.7" x2="438.6" y2="41.7" stroke="#333" stroke-width="0.8"/>
<text x="434.4" y="44.17" font-size="5.5" text-anchor="end" style="stroke-width:0.22px">4</text>
<line x1="436.4" y1="58.5" x2="438.6" y2="58.5" stroke="#333" stroke-width="0.8"/>
<text x="434.4" y="60.97" font-size="5.5" text-anchor="end" style="stroke-width:0.22px">3</text>
<line x1="436.4" y1="75.2" x2="438.6" y2="75.2" stroke="#333" stroke-width="0.8"/>
<text x="434.4" y="77.67" font-size="5.5" text-anchor="end" style="stroke-width:0.22px">2</text>
<line x1="436.4" y1="92" x2="438.6" y2="92" stroke="#333" stroke-width="0.8"/>
<text x="434.4" y="94.47" font-size="5.5" text-anchor="end" style="stroke-width:0.22px">1</text>
<line x1="436.4" y1="108.7" x2="438.6" y2="108.7" stroke="#333" stroke-width="0.8"/>
<text x="434.4" y="111.17" font-size="5.5" text-anchor="end" style="stroke-width:0.22px">0</text>
<line x1="458.8" y1="120" x2="458.8" y2="122.2" stroke="#333" stroke-width="0.8"/>
<text x="458.8" y="128.26" font-size="5.5" text-anchor="middle" style="stroke-width:0.22px">−1</text>
<line x1="479.6" y1="120" x2="479.6" y2="122.2" stroke="#333" stroke-width="0.8"/>
<text x="479.6" y="128.26" font-size="5.5" text-anchor="middle" style="stroke-width:0.22px">0</text>
<line x1="500.4" y1="120" x2="500.4" y2="122.2" stroke="#333" stroke-width="0.8"/>
<text x="500.4" y="128.26" font-size="5.5" text-anchor="middle" style="stroke-width:0.22px">1</text>
<line x1="521.2" y1="120" x2="521.2" y2="122.2" stroke="#333" stroke-width="0.8"/>
<text x="521.2" y="128.26" font-size="5.5" text-anchor="middle" style="stroke-width:0.22px">2</text>
<text x="485.35" y="23.6" font-size="10" text-anchor="middle" style="fill:#111;stroke:#111;stroke-width:0.15px">RLLFC</text>
<rect x="499.1" y="29.4" width="30.9" height="18" rx="1" fill="#fff" fill-opacity="0.8" stroke="#d6d6d6" stroke-width="0.8"/>
<circle cx="506.9" cy="34.26" r="1.85" fill="none" stroke="#f2232f" stroke-width="1.1"/>
<path transform="translate(506.9 42.54) scale(0.9)" d="M-0.7,-2.1h1.4v1.4h1.4v1.4h-1.4v1.4h-1.4v-1.4h-1.4v-1.4h1.4z" fill="#2052b0"/>
<text x="516.8" y="36.58" font-size="5.8">MI</text>
<text x="516.8" y="44.86" font-size="5.8">Rest</text>
<circle cx="28.7" cy="210.3" r="1.85" fill="none" stroke="#f2232f" stroke-width="1.15"/>
<circle cx="29.2" cy="211.3" r="1.85" fill="none" stroke="#f2232f" stroke-width="1.15"/>
<circle cx="28.4" cy="211.8" r="1.85" fill="none" stroke="#f2232f" stroke-width="1.15"/>
<circle cx="29.8" cy="209.7" r="1.85" fill="none" stroke="#f2232f" stroke-width="1.15"/>
<circle cx="31.8" cy="208.7" r="1.85" fill="none" stroke="#f2232f" stroke-width="1.15"/>
<circle cx="40.6" cy="209.7" r="1.85" fill="none" stroke="#f2232f" stroke-width="1.15"/>
<circle cx="45" cy="207.2" r="1.85" fill="none" stroke="#f2232f" stroke-width="1.15"/>
<circle cx="45.6" cy="206.4" r="1.85" fill="none" stroke="#f2232f" stroke-width="1.15"/>
<circle cx="48.4" cy="201.5" r="1.85" fill="none" stroke="#f2232f" stroke-width="1.15"/>
<circle cx="49.4" cy="198.4" r="1.85" fill="none" stroke="#f2232f" stroke-width="1.15"/>
<circle cx="50.5" cy="197.3" r="1.85" fill="none" stroke="#f2232f" stroke-width="1.15"/>
<circle cx="52" cy="196.8" r="1.85" fill="none" stroke="#f2232f" stroke-width="1.15"/>
<circle cx="55.6" cy="197.3" r="1.85" fill="none" stroke="#f2232f" stroke-width="1.15"/>
<circle cx="60.8" cy="202.5" r="1.85" fill="none" stroke="#f2232f" stroke-width="1.15"/>
<circle cx="62.9" cy="202" r="1.85" fill="none" stroke="#f2232f" stroke-width="1.15"/>
<circle cx="64.4" cy="200.9" r="1.85" fill="none" stroke="#f2232f" stroke-width="1.15"/>
<circle cx="30.1" cy="219.6" r="1.85" fill="none" stroke="#f2232f" stroke-width="1.15"/>
<circle cx="28.4" cy="224.2" r="1.85" fill="none" stroke="#f2232f" stroke-width="1.15"/>
<circle cx="28.7" cy="225.5" r="1.85" fill="none" stroke="#f2232f" stroke-width="1.15"/>
<circle cx="75.8" cy="196.3" r="1.85" fill="none" stroke="#f2232f" stroke-width="1.15"/>
<circle cx="77.3" cy="197.8" r="1.85" fill="none" stroke="#f2232f" stroke-width="1.15"/>
<circle cx="78.9" cy="197.8" r="1.85" fill="none" stroke="#f2232f" stroke-width="1.15"/>
<circle cx="83" cy="202" r="1.85" fill="none" stroke="#f2232f" stroke-width="1.15"/>
<circle cx="79.9" cy="208.2" r="1.85" fill="none" stroke="#f2232f" stroke-width="1.15"/>
<circle cx="80.9" cy="209.2" r="1.85" fill="none" stroke="#f2232f" stroke-width="1.15"/>
<circle cx="90.3" cy="204" r="1.85" fill="none" stroke="#f2232f" stroke-width="1.15"/>
<circle cx="91" cy="205.1" r="1.85" fill="none" stroke="#f2232f" stroke-width="1.15"/>
<circle cx="93.4" cy="207.2" r="1.85" fill="none" stroke="#f2232f" stroke-width="1.15"/>
<circle cx="89.9" cy="210.6" r="1.85" fill="none" stroke="#f2232f" stroke-width="1.15"/>
<circle cx="92.3" cy="195.2" r="1.85" fill="none" stroke="#f2232f" stroke-width="1.15"/>
<circle cx="93.9" cy="195.5" r="1.85" fill="none" stroke="#f2232f" stroke-width="1.15"/>
<circle cx="94.4" cy="216.2" r="1.85" fill="none" stroke="#f2232f" stroke-width="1.15"/>
<circle cx="91" cy="226.8" r="1.85" fill="none" stroke="#f2232f" stroke-width="1.15"/>
<circle cx="109.4" cy="227.9" r="1.85" fill="none" stroke="#f2232f" stroke-width="1.15"/>
<circle cx="109.4" cy="230.4" r="1.85" fill="none" stroke="#f2232f" stroke-width="1.15"/>
<circle cx="111" cy="232" r="1.85" fill="none" stroke="#f2232f" stroke-width="1.15"/>
<circle cx="112" cy="252" r="1.85" fill="none" stroke="#f2232f" stroke-width="1.15"/>
<circle cx="112" cy="255.2" r="1.85" fill="none" stroke="#f2232f" stroke-width="1.15"/>
<path d="M85.4,230.4h1.4v1.4h1.4v1.4h-1.4v1.4h-1.4v-1.4h-1.4v-1.4h1.4z" fill="#2052b0"/>
<path d="M29.4,250.5h1.4v1.4h1.4v1.4h-1.4v1.4h-1.4v-1.4h-1.4v-1.4h1.4z" fill="#2052b0"/>
<path d="M29.4,254.1h1.4v1.4h1.4v1.4h-1.4v1.4h-1.4v-1.4h-1.4v-1.4h1.4z" fill="#2052b0"/>
<path d="M33.2,252.5h1.4v1.4h1.4v1.4h-1.4v1.4h-1.4v-1.4h-1.4v-1.4h1.4z" fill="#2052b0"/>
<path d="M33.2,254.6h1.4v1.4h1.4v1.4h-1.4v1.4h-1.4v-1.4h-1.4v-1.4h1.4z" fill="#2052b0"/>
<path d="M31.1,253.1h1.4v1.4h1.4v1.4h-1.4v1.4h-1.4v-1.4h-1.4v-1.4h1.4z" fill="#2052b0"/>
<path d="M32.9,268.1h1.4v1.4h1.4v1.4h-1.4v1.4h-1.4v-1.4h-1.4v-1.4h1.4z" fill="#2052b0"/>
<path d="M41.5,272.7h1.4v1.4h1.4v1.4h-1.4v1.4h-1.4v-1.4h-1.4v-1.4h1.4z" fill="#2052b0"/>
<path d="M43,274.3h1.4v1.4h1.4v1.4h-1.4v1.4h-1.4v-1.4h-1.4v-1.4h1.4z" fill="#2052b0"/>
<path d="M42,273.8h1.4v1.4h1.4v1.4h-1.4v1.4h-1.4v-1.4h-1.4v-1.4h1.4z" fill="#2052b0"/>
<path d="M49.3,269.1h1.4v1.4h1.4v1.4h-1.4v1.4h-1.4v-1.4h-1.4v-1.4h1.4z" fill="#2052b0"/>
<path d="M51.3,270.1h1.4v1.4h1.4v1.4h-1.4v1.4h-1.4v-1.4h-1.4v-1.4h1.4z" fill="#2052b0"/>
<path d="M50.8,269.1h1.4v1.4h1.4v1.4h-1.4v1.4h-1.4v-1.4h-1.4v-1.4h1.4z" fill="#2052b0"/>
<path d="M62.2,277.4h1.4v1.4h1.4v1.4h-1.4v1.4h-1.4v-1.4h-1.4v-1.4h1.4z" fill="#2052b0"/>
<path d="M63.7,277.4h1.4v1.4h1.4v1.4h-1.4v1.4h-1.4v-1.4h-1.4v-1.4h1.4z" fill="#2052b0"/>
<path d="M64.8,276.9h1.4v1.4h1.4v1.4h-1.4v1.4h-1.4v-1.4h-1.4v-1.4h1.4z" fill="#2052b0"/>
<path d="M70.5,269.1h1.4v1.4h1.4v1.4h-1.4v1.4h-1.4v-1.4h-1.4v-1.4h1.4z" fill="#2052b0"/>
<path d="M93.7,237.8h1.4v1.4h1.4v1.4h-1.4v1.4h-1.4v-1.4h-1.4v-1.4h1.4z" fill="#2052b0"/>
<path d="M99.9,241.4h1.4v1.4h1.4v1.4h-1.4v1.4h-1.4v-1.4h-1.4v-1.4h1.4z" fill="#2052b0"/>
<path d="M97.8,244.3h1.4v1.4h1.4v1.4h-1.4v1.4h-1.4v-1.4h-1.4v-1.4h1.4z" fill="#2052b0"/>
<path d="M92.7,243.7h1.4v1.4h1.4v1.4h-1.4v1.4h-1.4v-1.4h-1.4v-1.4h1.4z" fill="#2052b0"/>
<path d="M92.1,245.3h1.4v1.4h1.4v1.4h-1.4v1.4h-1.4v-1.4h-1.4v-1.4h1.4z" fill="#2052b0"/>
<path d="M91.6,246.3h1.4v1.4h1.4v1.4h-1.4v1.4h-1.4v-1.4h-1.4v-1.4h1.4z" fill="#2052b0"/>
<path d="M93.7,249.9h1.4v1.4h1.4v1.4h-1.4v1.4h-1.4v-1.4h-1.4v-1.4h1.4z" fill="#2052b0"/>
<path d="M85.9,252h1.4v1.4h1.4v1.4h-1.4v1.4h-1.4v-1.4h-1.4v-1.4h1.4z" fill="#2052b0"/>
<path d="M86.5,253.6h1.4v1.4h1.4v1.4h-1.4v1.4h-1.4v-1.4h-1.4v-1.4h1.4z" fill="#2052b0"/>
<path d="M90.9,254.8h1.4v1.4h1.4v1.4h-1.4v1.4h-1.4v-1.4h-1.4v-1.4h1.4z" fill="#2052b0"/>
<path d="M98.4,256.2h1.4v1.4h1.4v1.4h-1.4v1.4h-1.4v-1.4h-1.4v-1.4h1.4z" fill="#2052b0"/>
<path d="M94.7,259.8h1.4v1.4h1.4v1.4h-1.4v1.4h-1.4v-1.4h-1.4v-1.4h1.4z" fill="#2052b0"/>
<path d="M96.3,261.3h1.4v1.4h1.4v1.4h-1.4v1.4h-1.4v-1.4h-1.4v-1.4h1.4z" fill="#2052b0"/>
<path d="M95.3,261.9h1.4v1.4h1.4v1.4h-1.4v1.4h-1.4v-1.4h-1.4v-1.4h1.4z" fill="#2052b0"/>
<path d="M70.4,268.9h1.4v1.4h1.4v1.4h-1.4v1.4h-1.4v-1.4h-1.4v-1.4h1.4z" fill="#2052b0"/>
<path d="M74.5,274.5h1.4v1.4h1.4v1.4h-1.4v1.4h-1.4v-1.4h-1.4v-1.4h1.4z" fill="#2052b0"/>
<path d="M78.2,272.2h1.4v1.4h1.4v1.4h-1.4v1.4h-1.4v-1.4h-1.4v-1.4h1.4z" fill="#2052b0"/>
<path d="M80.2,270.7h1.4v1.4h1.4v1.4h-1.4v1.4h-1.4v-1.4h-1.4v-1.4h1.4z" fill="#2052b0"/>
<path d="M82.3,269.1h1.4v1.4h1.4v1.4h-1.4v1.4h-1.4v-1.4h-1.4v-1.4h1.4z" fill="#2052b0"/>
<path d="M112.3,255.6h1.4v1.4h1.4v1.4h-1.4v1.4h-1.4v-1.4h-1.4v-1.4h1.4z" fill="#2052b0"/>
<rect x="24.2" y="190.7" width="93.5" height="93.1" fill="none" stroke="#828282" stroke-width="1.3"/>
<line x1="22" y1="197.6" x2="24.2" y2="197.6" stroke="#333" stroke-width="0.8"/>
<text x="20" y="200.07" font-size="5.5" text-anchor="end" style="stroke-width:0.22px">20</text>
<line x1="22" y1="218.5" x2="24.2" y2="218.5" stroke="#333" stroke-width="0.8"/>
<text x="20" y="220.97" font-size="5.5" text-anchor="end" style="stroke-width:0.22px">10</text>
<line x1="22" y1="239.4" x2="24.2" y2="239.4" stroke="#333" stroke-width="0.8"/>
<text x="20" y="241.87" font-size="5.5" text-anchor="end" style="stroke-width:0.22px">0</text>
<line x1="22" y1="260.4" x2="24.2" y2="260.4" stroke="#333" stroke-width="0.8"/>
<text x="20" y="262.87" font-size="5.5" text-anchor="end" style="stroke-width:0.22px">−10</text>
<line x1="22" y1="281.4" x2="24.2" y2="281.4" stroke="#333" stroke-width="0.8"/>
<text x="20" y="283.87" font-size="5.5" text-anchor="end" style="stroke-width:0.22px">−20</text>
<line x1="37.3" y1="283.8" x2="37.3" y2="286" stroke="#333" stroke-width="0.8"/>
<text x="37.3" y="292.06" font-size="5.5" text-anchor="middle" style="stroke-width:0.22px">−20</text>
<line x1="70.4" y1="283.8" x2="70.4" y2="286" stroke="#333" stroke-width="0.8"/>
<text x="70.4" y="292.06" font-size="5.5" text-anchor="middle" style="stroke-width:0.22px">0</text>
<line x1="103.5" y1="283.8" x2="103.5" y2="286" stroke="#333" stroke-width="0.8"/>
<text x="103.5" y="292.06" font-size="5.5" text-anchor="middle" style="stroke-width:0.22px">20</text>
<text x="70.95" y="187.4" font-size="10" text-anchor="middle" style="fill:#111;stroke:#111;stroke-width:0.15px">Isomap</text>
<rect x="29.2" y="229.8" width="36.4" height="17.5" rx="1" fill="#fff" fill-opacity="0.8" stroke="#d6d6d6" stroke-width="0.8"/>
<circle cx="37" cy="234.53" r="1.85" fill="none" stroke="#f2232f" stroke-width="1.1"/>
<path transform="translate(37 242.58) scale(0.9)" d="M-0.7,-2.1h1.4v1.4h1.4v1.4h-1.4v1.4h-1.4v-1.4h-1.4v-1.4h1.4z" fill="#2052b0"/>
<text x="46.9" y="236.84" font-size="5.8">MI+Sti</text>
<text x="46.9" y="244.9" font-size="5.8">Rest</text>
<circle cx="218.5" cy="274.8" r="1.85" fill="none" stroke="#f2232f" stroke-width="1.15"/>
<circle cx="227.3" cy="276.6" r="1.85" fill="none" stroke="#f2232f" stroke-width="1.15"/>
<circle cx="224.1" cy="261.8" r="1.85" fill="none" stroke="#f2232f" stroke-width="1.15"/>
<circle cx="226.8" cy="262.3" r="1.85" fill="none" stroke="#f2232f" stroke-width="1.15"/>
<circle cx="228.2" cy="263" r="1.85" fill="none" stroke="#f2232f" stroke-width="1.15"/>
<circle cx="237.7" cy="264.5" r="1.85" fill="none" stroke="#f2232f" stroke-width="1.15"/>
<circle cx="236.8" cy="266.8" r="1.85" fill="none" stroke="#f2232f" stroke-width="1.15"/>
<circle cx="240" cy="265.5" r="1.85" fill="none" stroke="#f2232f" stroke-width="1.15"/>
<circle cx="240.9" cy="268.6" r="1.85" fill="none" stroke="#f2232f" stroke-width="1.15"/>
<circle cx="242.7" cy="266.4" r="1.85" fill="none" stroke="#f2232f" stroke-width="1.15"/>
<circle cx="245" cy="267.3" r="1.85" fill="none" stroke="#f2232f" stroke-width="1.15"/>
<circle cx="246.4" cy="269.1" r="1.85" fill="none" stroke="#f2232f" stroke-width="1.15"/>
<circle cx="247.3" cy="270.5" r="1.85" fill="none" stroke="#f2232f" stroke-width="1.15"/>
<circle cx="248.6" cy="273.2" r="1.85" fill="none" stroke="#f2232f" stroke-width="1.15"/>
<circle cx="250.5" cy="275" r="1.85" fill="none" stroke="#f2232f" stroke-width="1.15"/>
<circle cx="250.9" cy="276.8" r="1.85" fill="none" stroke="#f2232f" stroke-width="1.15"/>
<circle cx="250.5" cy="278.6" r="1.85" fill="none" stroke="#f2232f" stroke-width="1.15"/>
<circle cx="247.7" cy="279.1" r="1.85" fill="none" stroke="#f2232f" stroke-width="1.15"/>
<circle cx="245.5" cy="279.1" r="1.85" fill="none" stroke="#f2232f" stroke-width="1.15"/>
<circle cx="243.2" cy="279.1" r="1.85" fill="none" stroke="#f2232f" stroke-width="1.15"/>
<circle cx="240.9" cy="279.1" r="1.85" fill="none" stroke="#f2232f" stroke-width="1.15"/>
<circle cx="238.6" cy="278.6" r="1.85" fill="none" stroke="#f2232f" stroke-width="1.15"/>
<circle cx="243.2" cy="267.3" r="1.85" fill="none" stroke="#f2232f" stroke-width="1.15"/>
<circle cx="239.1" cy="267.7" r="1.85" fill="none" stroke="#f2232f" stroke-width="1.15"/>
<circle cx="232.8" cy="208.7" r="1.85" fill="none" stroke="#f2232f" stroke-width="1.15"/>
<circle cx="240.8" cy="197.1" r="1.85" fill="none" stroke="#f2232f" stroke-width="1.15"/>
<circle cx="241.9" cy="198.2" r="1.85" fill="none" stroke="#f2232f" stroke-width="1.15"/>
<circle cx="241.2" cy="198.9" r="1.85" fill="none" stroke="#f2232f" stroke-width="1.15"/>
<path d="M165.7,259.3h1.4v1.4h1.4v1.4h-1.4v1.4h-1.4v-1.4h-1.4v-1.4h1.4z" fill="#2052b0"/>
<path d="M166.6,257.9h1.4v1.4h1.4v1.4h-1.4v1.4h-1.4v-1.4h-1.4v-1.4h1.4z" fill="#2052b0"/>
<path d="M167.9,257.4h1.4v1.4h1.4v1.4h-1.4v1.4h-1.4v-1.4h-1.4v-1.4h1.4z" fill="#2052b0"/>
<path d="M171.1,257h1.4v1.4h1.4v1.4h-1.4v1.4h-1.4v-1.4h-1.4v-1.4h1.4z" fill="#2052b0"/>
<path d="M172.5,256.5h1.4v1.4h1.4v1.4h-1.4v1.4h-1.4v-1.4h-1.4v-1.4h1.4z" fill="#2052b0"/>
<path d="M176.1,255.6h1.4v1.4h1.4v1.4h-1.4v1.4h-1.4v-1.4h-1.4v-1.4h1.4z" fill="#2052b0"/>
<path d="M178.8,255.6h1.4v1.4h1.4v1.4h-1.4v1.4h-1.4v-1.4h-1.4v-1.4h1.4z" fill="#2052b0"/>
<path d="M165.2,261.1h1.4v1.4h1.4v1.4h-1.4v1.4h-1.4v-1.4h-1.4v-1.4h1.4z" fill="#2052b0"/>
<path d="M166.1,262h1.4v1.4h1.4v1.4h-1.4v1.4h-1.4v-1.4h-1.4v-1.4h1.4z" fill="#2052b0"/>
<path d="M167.9,262.4h1.4v1.4h1.4v1.4h-1.4v1.4h-1.4v-1.4h-1.4v-1.4h1.4z" fill="#2052b0"/>
<path d="M170.2,263.4h1.4v1.4h1.4v1.4h-1.4v1.4h-1.4v-1.4h-1.4v-1.4h1.4z" fill="#2052b0"/>
<path d="M172.5,263.8h1.4v1.4h1.4v1.4h-1.4v1.4h-1.4v-1.4h-1.4v-1.4h1.4z" fill="#2052b0"/>
<path d="M174.3,263.4h1.4v1.4h1.4v1.4h-1.4v1.4h-1.4v-1.4h-1.4v-1.4h1.4z" fill="#2052b0"/>
<path d="M176.1,264.3h1.4v1.4h1.4v1.4h-1.4v1.4h-1.4v-1.4h-1.4v-1.4h1.4z" fill="#2052b0"/>
<path d="M177.9,264.7h1.4v1.4h1.4v1.4h-1.4v1.4h-1.4v-1.4h-1.4v-1.4h1.4z" fill="#2052b0"/>
<path d="M181.1,265.6h1.4v1.4h1.4v1.4h-1.4v1.4h-1.4v-1.4h-1.4v-1.4h1.4z" fill="#2052b0"/>
<path d="M189.8,267h1.4v1.4h1.4v1.4h-1.4v1.4h-1.4v-1.4h-1.4v-1.4h1.4z" fill="#2052b0"/>
<path d="M184.8,254.3h1.4v1.4h1.4v1.4h-1.4v1.4h-1.4v-1.4h-1.4v-1.4h1.4z" fill="#2052b0"/>
<path d="M186.6,254.7h1.4v1.4h1.4v1.4h-1.4v1.4h-1.4v-1.4h-1.4v-1.4h1.4z" fill="#2052b0"/>
<path d="M188.4,253.8h1.4v1.4h1.4v1.4h-1.4v1.4h-1.4v-1.4h-1.4v-1.4h1.4z" fill="#2052b0"/>
<path d="M190.7,254.7h1.4v1.4h1.4v1.4h-1.4v1.4h-1.4v-1.4h-1.4v-1.4h1.4z" fill="#2052b0"/>
<path d="M192.9,255.2h1.4v1.4h1.4v1.4h-1.4v1.4h-1.4v-1.4h-1.4v-1.4h1.4z" fill="#2052b0"/>
<path d="M196.6,255.2h1.4v1.4h1.4v1.4h-1.4v1.4h-1.4v-1.4h-1.4v-1.4h1.4z" fill="#2052b0"/>
<path d="M198.4,256.1h1.4v1.4h1.4v1.4h-1.4v1.4h-1.4v-1.4h-1.4v-1.4h1.4z" fill="#2052b0"/>
<path d="M206.6,258.4h1.4v1.4h1.4v1.4h-1.4v1.4h-1.4v-1.4h-1.4v-1.4h1.4z" fill="#2052b0"/>
<path d="M164.8,260.2h1.4v1.4h1.4v1.4h-1.4v1.4h-1.4v-1.4h-1.4v-1.4h1.4z" fill="#2052b0"/>
<path d="M169.3,261.1h1.4v1.4h1.4v1.4h-1.4v1.4h-1.4v-1.4h-1.4v-1.4h1.4z" fill="#2052b0"/>
<path d="M235.4,197.5h1.4v1.4h1.4v1.4h-1.4v1.4h-1.4v-1.4h-1.4v-1.4h1.4z" fill="#2052b0"/>
<path d="M236.5,195.7h1.4v1.4h1.4v1.4h-1.4v1.4h-1.4v-1.4h-1.4v-1.4h1.4z" fill="#2052b0"/>
<path d="M237.9,193.2h1.4v1.4h1.4v1.4h-1.4v1.4h-1.4v-1.4h-1.4v-1.4h1.4z" fill="#2052b0"/>
<path d="M238.7,192.4h1.4v1.4h1.4v1.4h-1.4v1.4h-1.4v-1.4h-1.4v-1.4h1.4z" fill="#2052b0"/>
<rect x="162.5" y="190.7" width="93.5" height="93.1" fill="none" stroke="#828282" stroke-width="1.3"/>
<line x1="160.3" y1="198.4" x2="162.5" y2="198.4" stroke="#333" stroke-width="0.8"/>
<text x="158.3" y="200.87" font-size="5.5" text-anchor="end" style="stroke-width:0.22px">0.3</text>
<line x1="160.3" y1="218.8" x2="162.5" y2="218.8" stroke="#333" stroke-width="0.8"/>
<text x="158.3" y="221.27" font-size="5.5" text-anchor="end" style="stroke-width:0.22px">0.2</text>
<line x1="160.3" y1="239.2" x2="162.5" y2="239.2" stroke="#333" stroke-width="0.8"/>
<text x="158.3" y="241.67" font-size="5.5" text-anchor="end" style="stroke-width:0.22px">0.1</text>
<line x1="160.3" y1="259.7" x2="162.5" y2="259.7" stroke="#333" stroke-width="0.8"/>
<text x="158.3" y="262.17" font-size="5.5" text-anchor="end" style="stroke-width:0.22px">0.0</text>
<line x1="160.3" y1="280.1" x2="162.5" y2="280.1" stroke="#333" stroke-width="0.8"/>
<text x="158.3" y="282.57" font-size="5.5" text-anchor="end" style="stroke-width:0.22px">−0.1</text>
<line x1="177.1" y1="283.8" x2="177.1" y2="286" stroke="#333" stroke-width="0.8"/>
<text x="177.1" y="292.06" font-size="5.5" text-anchor="middle" style="stroke-width:0.22px">−0.1</text>
<line x1="209.3" y1="283.8" x2="209.3" y2="286" stroke="#333" stroke-width="0.8"/>
<text x="209.3" y="292.06" font-size="5.5" text-anchor="middle" style="stroke-width:0.22px">0.0</text>
<line x1="241.5" y1="283.8" x2="241.5" y2="286" stroke="#333" stroke-width="0.8"/>
<text x="241.5" y="292.06" font-size="5.5" text-anchor="middle" style="stroke-width:0.22px">0.1</text>
<text x="209.25" y="187.4" font-size="10" text-anchor="middle" style="fill:#111;stroke:#111;stroke-width:0.15px">LLE</text>
<rect x="166.2" y="194.1" width="36.5" height="17.3" rx="1" fill="#fff" fill-opacity="0.8" stroke="#d6d6d6" stroke-width="0.8"/>
<circle cx="174" cy="198.77" r="1.85" fill="none" stroke="#f2232f" stroke-width="1.1"/>
<path transform="translate(174 206.73) scale(0.9)" d="M-0.7,-2.1h1.4v1.4h1.4v1.4h-1.4v1.4h-1.4v-1.4h-1.4v-1.4h1.4z" fill="#2052b0"/>
<text x="183.9" y="201.09" font-size="5.8">MI+Sti</text>
<text x="183.9" y="209.05" font-size="5.8">Rest</text>
<circle cx="305" cy="200.9" r="1.85" fill="none" stroke="#f2232f" stroke-width="1.15"/>
<circle cx="304.7" cy="221.6" r="1.85" fill="none" stroke="#f2232f" stroke-width="1.15"/>
<circle cx="307.3" cy="226.3" r="1.85" fill="none" stroke="#f2232f" stroke-width="1.15"/>
<circle cx="304.6" cy="223" r="1.85" fill="none" stroke="#f2232f" stroke-width="1.15"/>
<circle cx="305.4" cy="224.6" r="1.85" fill="none" stroke="#f2232f" stroke-width="1.15"/>
<circle cx="306.2" cy="226.2" r="1.85" fill="none" stroke="#f2232f" stroke-width="1.15"/>
<circle cx="304.6" cy="227.8" r="1.85" fill="none" stroke="#f2232f" stroke-width="1.15"/>
<circle cx="305.4" cy="229.4" r="1.85" fill="none" stroke="#f2232f" stroke-width="1.15"/>
<circle cx="306.2" cy="231" r="1.85" fill="none" stroke="#f2232f" stroke-width="1.15"/>
<circle cx="304.6" cy="232.6" r="1.85" fill="none" stroke="#f2232f" stroke-width="1.15"/>
<circle cx="305.4" cy="234.2" r="1.85" fill="none" stroke="#f2232f" stroke-width="1.15"/>
<circle cx="306.2" cy="235.8" r="1.85" fill="none" stroke="#f2232f" stroke-width="1.15"/>
<circle cx="304.6" cy="237.4" r="1.85" fill="none" stroke="#f2232f" stroke-width="1.15"/>
<circle cx="305.4" cy="239" r="1.85" fill="none" stroke="#f2232f" stroke-width="1.15"/>
<circle cx="306.2" cy="240.6" r="1.85" fill="none" stroke="#f2232f" stroke-width="1.15"/>
<circle cx="304.6" cy="242.2" r="1.85" fill="none" stroke="#f2232f" stroke-width="1.15"/>
<circle cx="305.4" cy="243.8" r="1.85" fill="none" stroke="#f2232f" stroke-width="1.15"/>
<circle cx="306.2" cy="245.4" r="1.85" fill="none" stroke="#f2232f" stroke-width="1.15"/>
<circle cx="304.6" cy="247" r="1.85" fill="none" stroke="#f2232f" stroke-width="1.15"/>
<circle cx="305.4" cy="248.6" r="1.85" fill="none" stroke="#f2232f" stroke-width="1.15"/>
<circle cx="306.2" cy="250.2" r="1.85" fill="none" stroke="#f2232f" stroke-width="1.15"/>
<circle cx="304.6" cy="251.8" r="1.85" fill="none" stroke="#f2232f" stroke-width="1.15"/>
<circle cx="305.4" cy="253.4" r="1.85" fill="none" stroke="#f2232f" stroke-width="1.15"/>
<circle cx="306.2" cy="255" r="1.85" fill="none" stroke="#f2232f" stroke-width="1.15"/>
<circle cx="304.6" cy="256.6" r="1.85" fill="none" stroke="#f2232f" stroke-width="1.15"/>
<circle cx="307.7" cy="242.1" r="1.85" fill="none" stroke="#f2232f" stroke-width="1.15"/>
<circle cx="307.7" cy="246.9" r="1.85" fill="none" stroke="#f2232f" stroke-width="1.15"/>
<circle cx="307.1" cy="244.8" r="1.85" fill="none" stroke="#f2232f" stroke-width="1.15"/>
<circle cx="389.6" cy="194.8" r="1.85" fill="none" stroke="#f2232f" stroke-width="1.15"/>
<path d="M304,256.4h1.4v1.4h1.4v1.4h-1.4v1.4h-1.4v-1.4h-1.4v-1.4h1.4z" fill="#2052b0"/>
<path d="M304.8,257.9h1.4v1.4h1.4v1.4h-1.4v1.4h-1.4v-1.4h-1.4v-1.4h1.4z" fill="#2052b0"/>
<path d="M304,259.4h1.4v1.4h1.4v1.4h-1.4v1.4h-1.4v-1.4h-1.4v-1.4h1.4z" fill="#2052b0"/>
<path d="M304.8,260.9h1.4v1.4h1.4v1.4h-1.4v1.4h-1.4v-1.4h-1.4v-1.4h1.4z" fill="#2052b0"/>
<path d="M304,262.4h1.4v1.4h1.4v1.4h-1.4v1.4h-1.4v-1.4h-1.4v-1.4h1.4z" fill="#2052b0"/>
<path d="M304.8,263.9h1.4v1.4h1.4v1.4h-1.4v1.4h-1.4v-1.4h-1.4v-1.4h1.4z" fill="#2052b0"/>
<path d="M304,265.4h1.4v1.4h1.4v1.4h-1.4v1.4h-1.4v-1.4h-1.4v-1.4h1.4z" fill="#2052b0"/>
<path d="M304.8,266.9h1.4v1.4h1.4v1.4h-1.4v1.4h-1.4v-1.4h-1.4v-1.4h1.4z" fill="#2052b0"/>
<path d="M304,268.4h1.4v1.4h1.4v1.4h-1.4v1.4h-1.4v-1.4h-1.4v-1.4h1.4z" fill="#2052b0"/>
<path d="M304.8,269.9h1.4v1.4h1.4v1.4h-1.4v1.4h-1.4v-1.4h-1.4v-1.4h1.4z" fill="#2052b0"/>
<path d="M304,271.4h1.4v1.4h1.4v1.4h-1.4v1.4h-1.4v-1.4h-1.4v-1.4h1.4z" fill="#2052b0"/>
<path d="M304.8,272.9h1.4v1.4h1.4v1.4h-1.4v1.4h-1.4v-1.4h-1.4v-1.4h1.4z" fill="#2052b0"/>
<path d="M304,274.4h1.4v1.4h1.4v1.4h-1.4v1.4h-1.4v-1.4h-1.4v-1.4h1.4z" fill="#2052b0"/>
<path d="M304.8,275.9h1.4v1.4h1.4v1.4h-1.4v1.4h-1.4v-1.4h-1.4v-1.4h1.4z" fill="#2052b0"/>
<path d="M304,277.4h1.4v1.4h1.4v1.4h-1.4v1.4h-1.4v-1.4h-1.4v-1.4h1.4z" fill="#2052b0"/>
<path d="M310.2,252.3h1.4v1.4h1.4v1.4h-1.4v1.4h-1.4v-1.4h-1.4v-1.4h1.4z" fill="#2052b0"/>
<rect x="300.5" y="190.7" width="93.5" height="93.1" fill="none" stroke="#828282" stroke-width="1.3"/>
<line x1="298.3" y1="201.9" x2="300.5" y2="201.9" stroke="#333" stroke-width="0.8"/>
<text x="296.3" y="204.37" font-size="5.5" text-anchor="end" style="stroke-width:0.22px">3</text>
<line x1="298.3" y1="219.8" x2="300.5" y2="219.8" stroke="#333" stroke-width="0.8"/>
<text x="296.3" y="222.27" font-size="5.5" text-anchor="end" style="stroke-width:0.22px">2</text>
<line x1="298.3" y1="237.6" x2="300.5" y2="237.6" stroke="#333" stroke-width="0.8"/>
<text x="296.3" y="240.07" font-size="5.5" text-anchor="end" style="stroke-width:0.22px">1</text>
<line x1="298.3" y1="255.4" x2="300.5" y2="255.4" stroke="#333" stroke-width="0.8"/>
<text x="296.3" y="257.87" font-size="5.5" text-anchor="end" style="stroke-width:0.22px">0</text>
<line x1="298.3" y1="273.2" x2="300.5" y2="273.2" stroke="#333" stroke-width="0.8"/>
<text x="296.3" y="275.67" font-size="5.5" text-anchor="end" style="stroke-width:0.22px">−1</text>
<line x1="304.9" y1="283.8" x2="304.9" y2="286" stroke="#333" stroke-width="0.8"/>
<text x="304.9" y="292.06" font-size="5.5" text-anchor="middle" style="stroke-width:0.22px">0.0</text>
<line x1="326.5" y1="283.8" x2="326.5" y2="286" stroke="#333" stroke-width="0.8"/>
<text x="326.5" y="292.06" font-size="5.5" text-anchor="middle" style="stroke-width:0.22px">2.5</text>
<line x1="348.1" y1="283.8" x2="348.1" y2="286" stroke="#333" stroke-width="0.8"/>
<text x="348.1" y="292.06" font-size="5.5" text-anchor="middle" style="stroke-width:0.22px">5.0</text>
<line x1="369.7" y1="283.8" x2="369.7" y2="286" stroke="#333" stroke-width="0.8"/>
<text x="369.7" y="292.06" font-size="5.5" text-anchor="middle" style="stroke-width:0.22px">7.5</text>
<line x1="391.3" y1="283.8" x2="391.3" y2="286" stroke="#333" stroke-width="0.8"/>
<text x="391.3" y="292.06" font-size="5.5" text-anchor="middle" style="stroke-width:0.22px">10.0</text>
<text x="347.25" y="187.4" font-size="10" text-anchor="middle" style="fill:#111;stroke:#111;stroke-width:0.15px">RLS-CSP</text>
<rect x="353.3" y="262.2" width="37.3" height="18" rx="1" fill="#fff" fill-opacity="0.8" stroke="#d6d6d6" stroke-width="0.8"/>
<circle cx="361.1" cy="267.06" r="1.85" fill="none" stroke="#f2232f" stroke-width="1.1"/>
<path transform="translate(361.1 275.34) scale(0.9)" d="M-0.7,-2.1h1.4v1.4h1.4v1.4h-1.4v1.4h-1.4v-1.4h-1.4v-1.4h1.4z" fill="#2052b0"/>
<text x="371" y="269.38" font-size="5.8">MI+Sti</text>
<text x="371" y="277.66" font-size="5.8">Rest</text>
<circle cx="453.3" cy="276.8" r="1.85" fill="none" stroke="#f2232f" stroke-width="1.15"/>
<circle cx="479.6" cy="194.6" r="1.85" fill="none" stroke="#f2232f" stroke-width="1.15"/>
<circle cx="469.5" cy="279.2" r="1.85" fill="none" stroke="#f2232f" stroke-width="1.15"/>
<circle cx="471.4" cy="276.6" r="1.85" fill="none" stroke="#f2232f" stroke-width="1.15"/>
<circle cx="473.9" cy="278.5" r="1.85" fill="none" stroke="#f2232f" stroke-width="1.15"/>
<circle cx="476.5" cy="277.7" r="1.85" fill="none" stroke="#f2232f" stroke-width="1.15"/>
<circle cx="479" cy="278.5" r="1.85" fill="none" stroke="#f2232f" stroke-width="1.15"/>
<circle cx="481.5" cy="277.3" r="1.85" fill="none" stroke="#f2232f" stroke-width="1.15"/>
<circle cx="484.1" cy="279.2" r="1.85" fill="none" stroke="#f2232f" stroke-width="1.15"/>
<circle cx="486" cy="277.3" r="1.85" fill="none" stroke="#f2232f" stroke-width="1.15"/>
<circle cx="488.5" cy="278.5" r="1.85" fill="none" stroke="#f2232f" stroke-width="1.15"/>
<circle cx="491.1" cy="277.3" r="1.85" fill="none" stroke="#f2232f" stroke-width="1.15"/>
<circle cx="492.4" cy="275.4" r="1.85" fill="none" stroke="#f2232f" stroke-width="1.15"/>
<circle cx="494.9" cy="277.9" r="1.85" fill="none" stroke="#f2232f" stroke-width="1.15"/>
<circle cx="500" cy="277.9" r="1.85" fill="none" stroke="#f2232f" stroke-width="1.15"/>
<circle cx="509.5" cy="276" r="1.85" fill="none" stroke="#f2232f" stroke-width="1.15"/>
<circle cx="512.7" cy="275.4" r="1.85" fill="none" stroke="#f2232f" stroke-width="1.15"/>
<circle cx="518.5" cy="264.9" r="1.85" fill="none" stroke="#f2232f" stroke-width="1.15"/>
<circle cx="517.2" cy="272.8" r="1.85" fill="none" stroke="#f2232f" stroke-width="1.15"/>
<circle cx="519.1" cy="274.7" r="1.85" fill="none" stroke="#f2232f" stroke-width="1.15"/>
<circle cx="522.9" cy="271.5" r="1.85" fill="none" stroke="#f2232f" stroke-width="1.15"/>
<circle cx="522.3" cy="274.1" r="1.85" fill="none" stroke="#f2232f" stroke-width="1.15"/>
<circle cx="522.9" cy="277.3" r="1.85" fill="none" stroke="#f2232f" stroke-width="1.15"/>
<circle cx="528" cy="275.6" r="1.85" fill="none" stroke="#f2232f" stroke-width="1.15"/>
<circle cx="475.2" cy="279.8" r="1.85" fill="none" stroke="#f2232f" stroke-width="1.15"/>
<circle cx="480.3" cy="279.8" r="1.85" fill="none" stroke="#f2232f" stroke-width="1.15"/>
<circle cx="482.8" cy="278.5" r="1.85" fill="none" stroke="#f2232f" stroke-width="1.15"/>
<circle cx="489.8" cy="279.2" r="1.85" fill="none" stroke="#f2232f" stroke-width="1.15"/>
<circle cx="470.36" cy="277.19" r="1.85" fill="none" stroke="#f2232f" stroke-width="1.15"/>
<circle cx="473.02" cy="276.99" r="1.85" fill="none" stroke="#f2232f" stroke-width="1.15"/>
<circle cx="475.33" cy="277.75" r="1.85" fill="none" stroke="#f2232f" stroke-width="1.15"/>
<circle cx="477.35" cy="278.12" r="1.85" fill="none" stroke="#f2232f" stroke-width="1.15"/>
<circle cx="479.73" cy="277.93" r="1.85" fill="none" stroke="#f2232f" stroke-width="1.15"/>
<circle cx="482.16" cy="277.04" r="1.85" fill="none" stroke="#f2232f" stroke-width="1.15"/>
<circle cx="484.84" cy="278.95" r="1.85" fill="none" stroke="#f2232f" stroke-width="1.15"/>
<circle cx="487" cy="277.38" r="1.85" fill="none" stroke="#f2232f" stroke-width="1.15"/>
<circle cx="489.8" cy="279.26" r="1.85" fill="none" stroke="#f2232f" stroke-width="1.15"/>
<circle cx="492.16" cy="277.83" r="1.85" fill="none" stroke="#f2232f" stroke-width="1.15"/>
<path d="M456,265.4h1.4v1.4h1.4v1.4h-1.4v1.4h-1.4v-1.4h-1.4v-1.4h1.4z" fill="#2052b0"/>
<path d="M453.5,270.6h1.4v1.4h1.4v1.4h-1.4v1.4h-1.4v-1.4h-1.4v-1.4h1.4z" fill="#2052b0"/>
<path d="M459.8,276.1h1.4v1.4h1.4v1.4h-1.4v1.4h-1.4v-1.4h-1.4v-1.4h1.4z" fill="#2052b0"/>
<path d="M454.4,272.9h1.4v1.4h1.4v1.4h-1.4v1.4h-1.4v-1.4h-1.4v-1.4h1.4z" fill="#2052b0"/>
<path d="M456.2,274.3h1.4v1.4h1.4v1.4h-1.4v1.4h-1.4v-1.4h-1.4v-1.4h1.4z" fill="#2052b0"/>
<path d="M442.1,276.1h1.4v1.4h1.4v1.4h-1.4v1.4h-1.4v-1.4h-1.4v-1.4h1.4z" fill="#2052b0"/>
<path d="M443.5,274.7h1.4v1.4h1.4v1.4h-1.4v1.4h-1.4v-1.4h-1.4v-1.4h1.4z" fill="#2052b0"/>
<path d="M444.4,277h1.4v1.4h1.4v1.4h-1.4v1.4h-1.4v-1.4h-1.4v-1.4h1.4z" fill="#2052b0"/>
<path d="M446.2,273.8h1.4v1.4h1.4v1.4h-1.4v1.4h-1.4v-1.4h-1.4v-1.4h1.4z" fill="#2052b0"/>
<path d="M447.1,276.1h1.4v1.4h1.4v1.4h-1.4v1.4h-1.4v-1.4h-1.4v-1.4h1.4z" fill="#2052b0"/>
<path d="M448.9,273.4h1.4v1.4h1.4v1.4h-1.4v1.4h-1.4v-1.4h-1.4v-1.4h1.4z" fill="#2052b0"/>
<path d="M449.8,275.6h1.4v1.4h1.4v1.4h-1.4v1.4h-1.4v-1.4h-1.4v-1.4h1.4z" fill="#2052b0"/>
<path d="M451.2,277.4h1.4v1.4h1.4v1.4h-1.4v1.4h-1.4v-1.4h-1.4v-1.4h1.4z" fill="#2052b0"/>
<path d="M450.3,272.4h1.4v1.4h1.4v1.4h-1.4v1.4h-1.4v-1.4h-1.4v-1.4h1.4z" fill="#2052b0"/>
<path d="M452.1,274.7h1.4v1.4h1.4v1.4h-1.4v1.4h-1.4v-1.4h-1.4v-1.4h1.4z" fill="#2052b0"/>
<path d="M441.7,277.4h1.4v1.4h1.4v1.4h-1.4v1.4h-1.4v-1.4h-1.4v-1.4h1.4z" fill="#2052b0"/>
<path d="M445.3,277.4h1.4v1.4h1.4v1.4h-1.4v1.4h-1.4v-1.4h-1.4v-1.4h1.4z" fill="#2052b0"/>
<path d="M448,277.9h1.4v1.4h1.4v1.4h-1.4v1.4h-1.4v-1.4h-1.4v-1.4h1.4z" fill="#2052b0"/>
<path d="M453,276.5h1.4v1.4h1.4v1.4h-1.4v1.4h-1.4v-1.4h-1.4v-1.4h1.4z" fill="#2052b0"/>
<rect x="438.6" y="190.7" width="93.5" height="93.1" fill="none" stroke="#828282" stroke-width="1.3"/>
<line x1="436.4" y1="191.7" x2="438.6" y2="191.7" stroke="#333" stroke-width="0.8"/>
<text x="434.4" y="194.17" font-size="5.5" text-anchor="end" style="stroke-width:0.22px">10</text>
<line x1="436.4" y1="208.6" x2="438.6" y2="208.6" stroke="#333" stroke-width="0.8"/>
<text x="434.4" y="211.07" font-size="5.5" text-anchor="end" style="stroke-width:0.22px">8</text>
<line x1="436.4" y1="225.5" x2="438.6" y2="225.5" stroke="#333" stroke-width="0.8"/>
<text x="434.4" y="227.97" font-size="5.5" text-anchor="end" style="stroke-width:0.22px">6</text>
<line x1="436.4" y1="242.5" x2="438.6" y2="242.5" stroke="#333" stroke-width="0.8"/>
<text x="434.4" y="244.97" font-size="5.5" text-anchor="end" style="stroke-width:0.22px">4</text>
<line x1="436.4" y1="259.5" x2="438.6" y2="259.5" stroke="#333" stroke-width="0.8"/>
<text x="434.4" y="261.97" font-size="5.5" text-anchor="end" style="stroke-width:0.22px">2</text>
<line x1="436.4" y1="276.4" x2="438.6" y2="276.4" stroke="#333" stroke-width="0.8"/>
<text x="434.4" y="278.87" font-size="5.5" text-anchor="end" style="stroke-width:0.22px">0</text>
<line x1="445" y1="283.8" x2="445" y2="286" stroke="#333" stroke-width="0.8"/>
<text x="445" y="292.06" font-size="5.5" text-anchor="middle" style="stroke-width:0.22px">−1</text>
<line x1="468" y1="283.8" x2="468" y2="286" stroke="#333" stroke-width="0.8"/>
<text x="468" y="292.06" font-size="5.5" text-anchor="middle" style="stroke-width:0.22px">0</text>
<line x1="491" y1="283.8" x2="491" y2="286" stroke="#333" stroke-width="0.8"/>
<text x="491" y="292.06" font-size="5.5" text-anchor="middle" style="stroke-width:0.22px">1</text>
<line x1="514" y1="283.8" x2="514" y2="286" stroke="#333" stroke-width="0.8"/>
<text x="514" y="292.06" font-size="5.5" text-anchor="middle" style="stroke-width:0.22px">2</text>
<text x="485.35" y="187.4" font-size="10" text-anchor="middle" style="fill:#111;stroke:#111;stroke-width:0.15px">RLLFC</text>
<rect x="493.3" y="194.3" width="36.4" height="17.5" rx="1" fill="#fff" fill-opacity="0.8" stroke="#d6d6d6" stroke-width="0.8"/>
<circle cx="501.1" cy="199.03" r="1.85" fill="none" stroke="#f2232f" stroke-width="1.1"/>
<path transform="translate(501.1 207.08) scale(0.9)" d="M-0.7,-2.1h1.4v1.4h1.4v1.4h-1.4v1.4h-1.4v-1.4h-1.4v-1.4h1.4z" fill="#2052b0"/>
<text x="511" y="201.34" font-size="5.8">MI+Sti</text>
<text x="511" y="209.4" font-size="5.8">Rest</text>
<circle cx="54.9" cy="356" r="1.85" fill="none" stroke="#f2232f" stroke-width="1.15"/>
<circle cx="50" cy="395.5" r="1.85" fill="none" stroke="#f2232f" stroke-width="1.15"/>
<circle cx="57" cy="392.4" r="1.85" fill="none" stroke="#f2232f" stroke-width="1.15"/>
<circle cx="58.7" cy="395" r="1.85" fill="none" stroke="#f2232f" stroke-width="1.15"/>
<circle cx="58" cy="397.6" r="1.85" fill="none" stroke="#f2232f" stroke-width="1.15"/>
<circle cx="72.7" cy="397.6" r="1.85" fill="none" stroke="#f2232f" stroke-width="1.15"/>
<circle cx="50" cy="396.1" r="1.85" fill="none" stroke="#f2232f" stroke-width="1.15"/>
<circle cx="58.1" cy="398.2" r="1.85" fill="none" stroke="#f2232f" stroke-width="1.15"/>
<circle cx="58.6" cy="403.1" r="1.85" fill="none" stroke="#f2232f" stroke-width="1.15"/>
<circle cx="59.7" cy="405.8" r="1.85" fill="none" stroke="#f2232f" stroke-width="1.15"/>
<circle cx="61.9" cy="406.3" r="1.85" fill="none" stroke="#f2232f" stroke-width="1.15"/>
<circle cx="58.6" cy="408.5" r="1.85" fill="none" stroke="#f2232f" stroke-width="1.15"/>
<circle cx="57.6" cy="410.6" r="1.85" fill="none" stroke="#f2232f" stroke-width="1.15"/>
<circle cx="57" cy="411.7" r="1.85" fill="none" stroke="#f2232f" stroke-width="1.15"/>
<circle cx="53.3" cy="414.9" r="1.85" fill="none" stroke="#f2232f" stroke-width="1.15"/>
<circle cx="67.3" cy="406.9" r="1.85" fill="none" stroke="#f2232f" stroke-width="1.15"/>
<circle cx="67.3" cy="411.7" r="1.85" fill="none" stroke="#f2232f" stroke-width="1.15"/>
<circle cx="67.3" cy="418.2" r="1.85" fill="none" stroke="#f2232f" stroke-width="1.15"/>
<circle cx="70.5" cy="402.5" r="1.85" fill="none" stroke="#f2232f" stroke-width="1.15"/>
<circle cx="71" cy="405.2" r="1.85" fill="none" stroke="#f2232f" stroke-width="1.15"/>
<circle cx="64" cy="426.8" r="1.85" fill="none" stroke="#f2232f" stroke-width="1.15"/>
<circle cx="54.3" cy="423.6" r="1.85" fill="none" stroke="#f2232f" stroke-width="1.15"/>
<circle cx="33.9" cy="423.6" r="1.85" fill="none" stroke="#f2232f" stroke-width="1.15"/>
<circle cx="33.9" cy="420.9" r="1.85" fill="none" stroke="#f2232f" stroke-width="1.15"/>
<circle cx="32.8" cy="421.4" r="1.85" fill="none" stroke="#f2232f" stroke-width="1.15"/>
<circle cx="30.1" cy="430.6" r="1.85" fill="none" stroke="#f2232f" stroke-width="1.15"/>
<circle cx="32.2" cy="432.2" r="1.85" fill="none" stroke="#f2232f" stroke-width="1.15"/>
<circle cx="28.5" cy="433.8" r="1.85" fill="none" stroke="#f2232f" stroke-width="1.15"/>
<circle cx="29.5" cy="431.1" r="1.85" fill="none" stroke="#f2232f" stroke-width="1.15"/>
<circle cx="71.8" cy="400.9" r="1.85" fill="none" stroke="#f2232f" stroke-width="1.15"/>
<circle cx="70.7" cy="403.1" r="1.85" fill="none" stroke="#f2232f" stroke-width="1.15"/>
<circle cx="71.2" cy="405.8" r="1.85" fill="none" stroke="#f2232f" stroke-width="1.15"/>
<circle cx="72.3" cy="408.5" r="1.85" fill="none" stroke="#f2232f" stroke-width="1.15"/>
<circle cx="75.5" cy="408.5" r="1.85" fill="none" stroke="#f2232f" stroke-width="1.15"/>
<circle cx="78.2" cy="406.9" r="1.85" fill="none" stroke="#f2232f" stroke-width="1.15"/>
<circle cx="76.1" cy="411.7" r="1.85" fill="none" stroke="#f2232f" stroke-width="1.15"/>
<circle cx="79.9" cy="414.4" r="1.85" fill="none" stroke="#f2232f" stroke-width="1.15"/>
<circle cx="77.7" cy="417.6" r="1.85" fill="none" stroke="#f2232f" stroke-width="1.15"/>
<circle cx="68.5" cy="418.2" r="1.85" fill="none" stroke="#f2232f" stroke-width="1.15"/>
<circle cx="68.5" cy="411.2" r="1.85" fill="none" stroke="#f2232f" stroke-width="1.15"/>
<circle cx="89.6" cy="407.4" r="1.85" fill="none" stroke="#f2232f" stroke-width="1.15"/>
<circle cx="89" cy="411.2" r="1.85" fill="none" stroke="#f2232f" stroke-width="1.15"/>
<circle cx="91.2" cy="411.2" r="1.85" fill="none" stroke="#f2232f" stroke-width="1.15"/>
<circle cx="90.6" cy="414.4" r="1.85" fill="none" stroke="#f2232f" stroke-width="1.15"/>
<circle cx="92.2" cy="414.9" r="1.85" fill="none" stroke="#f2232f" stroke-width="1.15"/>
<circle cx="90.1" cy="416.6" r="1.85" fill="none" stroke="#f2232f" stroke-width="1.15"/>
<circle cx="91.2" cy="426.8" r="1.85" fill="none" stroke="#f2232f" stroke-width="1.15"/>
<circle cx="92.8" cy="426.8" r="1.85" fill="none" stroke="#f2232f" stroke-width="1.15"/>
<circle cx="79.9" cy="425.7" r="1.85" fill="none" stroke="#f2232f" stroke-width="1.15"/>
<circle cx="81.5" cy="430" r="1.85" fill="none" stroke="#f2232f" stroke-width="1.15"/>
<circle cx="80.4" cy="433.3" r="1.85" fill="none" stroke="#f2232f" stroke-width="1.15"/>
<circle cx="96" cy="440.8" r="1.85" fill="none" stroke="#f2232f" stroke-width="1.15"/>
<circle cx="101.4" cy="413.9" r="1.85" fill="none" stroke="#f2232f" stroke-width="1.15"/>
<circle cx="102.5" cy="411.7" r="1.85" fill="none" stroke="#f2232f" stroke-width="1.15"/>
<circle cx="104.6" cy="414.9" r="1.85" fill="none" stroke="#f2232f" stroke-width="1.15"/>
<circle cx="102.5" cy="417.1" r="1.85" fill="none" stroke="#f2232f" stroke-width="1.15"/>
<circle cx="105.7" cy="420.3" r="1.85" fill="none" stroke="#f2232f" stroke-width="1.15"/>
<path d="M67.9,355.4h1.4v1.4h1.4v1.4h-1.4v1.4h-1.4v-1.4h-1.4v-1.4h1.4z" fill="#2052b0"/>
<path d="M60.4,367.6h1.4v1.4h1.4v1.4h-1.4v1.4h-1.4v-1.4h-1.4v-1.4h1.4z" fill="#2052b0"/>
<path d="M58,383.6h1.4v1.4h1.4v1.4h-1.4v1.4h-1.4v-1.4h-1.4v-1.4h1.4z" fill="#2052b0"/>
<path d="M54.9,387.2h1.4v1.4h1.4v1.4h-1.4v1.4h-1.4v-1.4h-1.4v-1.4h1.4z" fill="#2052b0"/>
<path d="M57.5,386.7h1.4v1.4h1.4v1.4h-1.4v1.4h-1.4v-1.4h-1.4v-1.4h1.4z" fill="#2052b0"/>
<path d="M63.2,385.2h1.4v1.4h1.4v1.4h-1.4v1.4h-1.4v-1.4h-1.4v-1.4h1.4z" fill="#2052b0"/>
<path d="M68.4,387h1.4v1.4h1.4v1.4h-1.4v1.4h-1.4v-1.4h-1.4v-1.4h1.4z" fill="#2052b0"/>
<path d="M68.9,388.3h1.4v1.4h1.4v1.4h-1.4v1.4h-1.4v-1.4h-1.4v-1.4h1.4z" fill="#2052b0"/>
<path d="M55.5,393.4h1.4v1.4h1.4v1.4h-1.4v1.4h-1.4v-1.4h-1.4v-1.4h1.4z" fill="#2052b0"/>
<path d="M70,393.4h1.4v1.4h1.4v1.4h-1.4v1.4h-1.4v-1.4h-1.4v-1.4h1.4z" fill="#2052b0"/>
<path d="M69.4,395h1.4v1.4h1.4v1.4h-1.4v1.4h-1.4v-1.4h-1.4v-1.4h1.4z" fill="#2052b0"/>
<path d="M73,383.1h1.4v1.4h1.4v1.4h-1.4v1.4h-1.4v-1.4h-1.4v-1.4h1.4z" fill="#2052b0"/>
<path d="M68.9,386.7h1.4v1.4h1.4v1.4h-1.4v1.4h-1.4v-1.4h-1.4v-1.4h1.4z" fill="#2052b0"/>
<path d="M70.4,390.3h1.4v1.4h1.4v1.4h-1.4v1.4h-1.4v-1.4h-1.4v-1.4h1.4z" fill="#2052b0"/>
<path d="M75.1,391.9h1.4v1.4h1.4v1.4h-1.4v1.4h-1.4v-1.4h-1.4v-1.4h1.4z" fill="#2052b0"/>
<path d="M77.1,395h1.4v1.4h1.4v1.4h-1.4v1.4h-1.4v-1.4h-1.4v-1.4h1.4z" fill="#2052b0"/>
<path d="M80.8,392.9h1.4v1.4h1.4v1.4h-1.4v1.4h-1.4v-1.4h-1.4v-1.4h1.4z" fill="#2052b0"/>
<path d="M78.7,394h1.4v1.4h1.4v1.4h-1.4v1.4h-1.4v-1.4h-1.4v-1.4h1.4z" fill="#2052b0"/>
<path d="M93.7,396h1.4v1.4h1.4v1.4h-1.4v1.4h-1.4v-1.4h-1.4v-1.4h1.4z" fill="#2052b0"/>
<path d="M89,397.1h1.4v1.4h1.4v1.4h-1.4v1.4h-1.4v-1.4h-1.4v-1.4h1.4z" fill="#2052b0"/>
<path d="M55.8,394h1.4v1.4h1.4v1.4h-1.4v1.4h-1.4v-1.4h-1.4v-1.4h1.4z" fill="#2052b0"/>
<path d="M64.4,399.4h1.4v1.4h1.4v1.4h-1.4v1.4h-1.4v-1.4h-1.4v-1.4h1.4z" fill="#2052b0"/>
<path d="M55.6,403.1h1.4v1.4h1.4v1.4h-1.4v1.4h-1.4v-1.4h-1.4v-1.4h1.4z" fill="#2052b0"/>
<path d="M49.9,408h1.4v1.4h1.4v1.4h-1.4v1.4h-1.4v-1.4h-1.4v-1.4h1.4z" fill="#2052b0"/>
<path d="M33.2,410.7h1.4v1.4h1.4v1.4h-1.4v1.4h-1.4v-1.4h-1.4v-1.4h1.4z" fill="#2052b0"/>
<path d="M35.3,416.6h1.4v1.4h1.4v1.4h-1.4v1.4h-1.4v-1.4h-1.4v-1.4h1.4z" fill="#2052b0"/>
<path d="M32.1,417.7h1.4v1.4h1.4v1.4h-1.4v1.4h-1.4v-1.4h-1.4v-1.4h1.4z" fill="#2052b0"/>
<path d="M31.5,424.7h1.4v1.4h1.4v1.4h-1.4v1.4h-1.4v-1.4h-1.4v-1.4h1.4z" fill="#2052b0"/>
<path d="M31.5,427.9h1.4v1.4h1.4v1.4h-1.4v1.4h-1.4v-1.4h-1.4v-1.4h1.4z" fill="#2052b0"/>
<path d="M57.9,419.3h1.4v1.4h1.4v1.4h-1.4v1.4h-1.4v-1.4h-1.4v-1.4h1.4z" fill="#2052b0"/>
<path d="M52,423.6h1.4v1.4h1.4v1.4h-1.4v1.4h-1.4v-1.4h-1.4v-1.4h1.4z" fill="#2052b0"/>
<path d="M68.7,395.1h1.4v1.4h1.4v1.4h-1.4v1.4h-1.4v-1.4h-1.4v-1.4h1.4z" fill="#2052b0"/>
<path d="M69.5,394h1.4v1.4h1.4v1.4h-1.4v1.4h-1.4v-1.4h-1.4v-1.4h1.4z" fill="#2052b0"/>
<path d="M76.5,394.5h1.4v1.4h1.4v1.4h-1.4v1.4h-1.4v-1.4h-1.4v-1.4h1.4z" fill="#2052b0"/>
<path d="M79.2,394h1.4v1.4h1.4v1.4h-1.4v1.4h-1.4v-1.4h-1.4v-1.4h1.4z" fill="#2052b0"/>
<path d="M81.3,393.4h1.4v1.4h1.4v1.4h-1.4v1.4h-1.4v-1.4h-1.4v-1.4h1.4z" fill="#2052b0"/>
<path d="M88.9,398.8h1.4v1.4h1.4v1.4h-1.4v1.4h-1.4v-1.4h-1.4v-1.4h1.4z" fill="#2052b0"/>
<path d="M93.2,396.7h1.4v1.4h1.4v1.4h-1.4v1.4h-1.4v-1.4h-1.4v-1.4h1.4z" fill="#2052b0"/>
<path d="M95.9,402.1h1.4v1.4h1.4v1.4h-1.4v1.4h-1.4v-1.4h-1.4v-1.4h1.4z" fill="#2052b0"/>
<path d="M98.6,400.4h1.4v1.4h1.4v1.4h-1.4v1.4h-1.4v-1.4h-1.4v-1.4h1.4z" fill="#2052b0"/>
<path d="M81.3,406.4h1.4v1.4h1.4v1.4h-1.4v1.4h-1.4v-1.4h-1.4v-1.4h1.4z" fill="#2052b0"/>
<path d="M72.1,408.5h1.4v1.4h1.4v1.4h-1.4v1.4h-1.4v-1.4h-1.4v-1.4h1.4z" fill="#2052b0"/>
<path d="M101.8,410.7h1.4v1.4h1.4v1.4h-1.4v1.4h-1.4v-1.4h-1.4v-1.4h1.4z" fill="#2052b0"/>
<path d="M103.4,412.8h1.4v1.4h1.4v1.4h-1.4v1.4h-1.4v-1.4h-1.4v-1.4h1.4z" fill="#2052b0"/>
<path d="M102.9,416.1h1.4v1.4h1.4v1.4h-1.4v1.4h-1.4v-1.4h-1.4v-1.4h1.4z" fill="#2052b0"/>
<path d="M108.3,423.1h1.4v1.4h1.4v1.4h-1.4v1.4h-1.4v-1.4h-1.4v-1.4h1.4z" fill="#2052b0"/>
<path d="M113.1,423.6h1.4v1.4h1.4v1.4h-1.4v1.4h-1.4v-1.4h-1.4v-1.4h1.4z" fill="#2052b0"/>
<rect x="24.2" y="351.9" width="93.5" height="93" fill="none" stroke="#828282" stroke-width="1.3"/>
<line x1="22" y1="354.5" x2="24.2" y2="354.5" stroke="#333" stroke-width="0.8"/>
<text x="20" y="356.97" font-size="5.5" text-anchor="end" style="stroke-width:0.22px">10.0</text>
<line x1="22" y1="367.85" x2="24.2" y2="367.85" stroke="#333" stroke-width="0.8"/>
<text x="20" y="370.32" font-size="5.5" text-anchor="end" style="stroke-width:0.22px">7.5</text>
<line x1="22" y1="381.2" x2="24.2" y2="381.2" stroke="#333" stroke-width="0.8"/>
<text x="20" y="383.67" font-size="5.5" text-anchor="end" style="stroke-width:0.22px">5.0</text>
<line x1="22" y1="394.55" x2="24.2" y2="394.55" stroke="#333" stroke-width="0.8"/>
<text x="20" y="397.02" font-size="5.5" text-anchor="end" style="stroke-width:0.22px">2.5</text>
<line x1="22" y1="407.9" x2="24.2" y2="407.9" stroke="#333" stroke-width="0.8"/>
<text x="20" y="410.37" font-size="5.5" text-anchor="end" style="stroke-width:0.22px">0.0</text>
<line x1="22" y1="421.25" x2="24.2" y2="421.25" stroke="#333" stroke-width="0.8"/>
<text x="20" y="423.72" font-size="5.5" text-anchor="end" style="stroke-width:0.22px">−2.5</text>
<line x1="22" y1="434.6" x2="24.2" y2="434.6" stroke="#333" stroke-width="0.8"/>
<text x="20" y="437.07" font-size="5.5" text-anchor="end" style="stroke-width:0.22px">−5.0</text>
<line x1="42.6" y1="444.9" x2="42.6" y2="447.1" stroke="#333" stroke-width="0.8"/>
<text x="42.6" y="453.16" font-size="5.5" text-anchor="middle" style="stroke-width:0.22px">−10</text>
<line x1="69.4" y1="444.9" x2="69.4" y2="447.1" stroke="#333" stroke-width="0.8"/>
<text x="69.4" y="453.16" font-size="5.5" text-anchor="middle" style="stroke-width:0.22px">0</text>
<line x1="96.2" y1="444.9" x2="96.2" y2="447.1" stroke="#333" stroke-width="0.8"/>
<text x="96.2" y="453.16" font-size="5.5" text-anchor="middle" style="stroke-width:0.22px">10</text>
<text x="70.95" y="348.5" font-size="10" text-anchor="middle" style="fill:#111;stroke:#111;stroke-width:0.15px">Isomap</text>
<rect x="85.1" y="354.7" width="30.5" height="17.4" rx="1" fill="#fff" fill-opacity="0.8" stroke="#d6d6d6" stroke-width="0.8"/>
<circle cx="92.9" cy="359.4" r="1.85" fill="none" stroke="#f2232f" stroke-width="1.1"/>
<path transform="translate(92.9 367.4) scale(0.9)" d="M-0.7,-2.1h1.4v1.4h1.4v1.4h-1.4v1.4h-1.4v-1.4h-1.4v-1.4h1.4z" fill="#2052b0"/>
<text x="102.8" y="361.72" font-size="5.8">Sti</text>
<text x="102.8" y="369.72" font-size="5.8">Rest</text>
<circle cx="210.7" cy="374.8" r="1.85" fill="none" stroke="#f2232f" stroke-width="1.15"/>
<circle cx="204.4" cy="390.4" r="1.85" fill="none" stroke="#f2232f" stroke-width="1.15"/>
<circle cx="192.5" cy="399.7" r="1.85" fill="none" stroke="#f2232f" stroke-width="1.15"/>
<circle cx="216.2" cy="355.7" r="1.85" fill="none" stroke="#f2232f" stroke-width="1.15"/>
<circle cx="214.8" cy="359.8" r="1.85" fill="none" stroke="#f2232f" stroke-width="1.15"/>
<circle cx="214.3" cy="362.9" r="1.85" fill="none" stroke="#f2232f" stroke-width="1.15"/>
<circle cx="213.8" cy="360.9" r="1.85" fill="none" stroke="#f2232f" stroke-width="1.15"/>
<circle cx="166.3" cy="426.8" r="1.85" fill="none" stroke="#f2232f" stroke-width="1.15"/>
<circle cx="168.5" cy="425.7" r="1.85" fill="none" stroke="#f2232f" stroke-width="1.15"/>
<circle cx="171.2" cy="420.9" r="1.85" fill="none" stroke="#f2232f" stroke-width="1.15"/>
<circle cx="173.9" cy="417.6" r="1.85" fill="none" stroke="#f2232f" stroke-width="1.15"/>
<circle cx="177.1" cy="413.9" r="1.85" fill="none" stroke="#f2232f" stroke-width="1.15"/>
<circle cx="180.3" cy="410.6" r="1.85" fill="none" stroke="#f2232f" stroke-width="1.15"/>
<circle cx="183.6" cy="407.9" r="1.85" fill="none" stroke="#f2232f" stroke-width="1.15"/>
<circle cx="186.8" cy="405.8" r="1.85" fill="none" stroke="#f2232f" stroke-width="1.15"/>
<circle cx="190" cy="402.5" r="1.85" fill="none" stroke="#f2232f" stroke-width="1.15"/>
<circle cx="192.2" cy="400.9" r="1.85" fill="none" stroke="#f2232f" stroke-width="1.15"/>
<circle cx="194.9" cy="400.4" r="1.85" fill="none" stroke="#f2232f" stroke-width="1.15"/>
<circle cx="199.2" cy="400.4" r="1.85" fill="none" stroke="#f2232f" stroke-width="1.15"/>
<circle cx="194.9" cy="405.8" r="1.85" fill="none" stroke="#f2232f" stroke-width="1.15"/>
<circle cx="190.6" cy="411.7" r="1.85" fill="none" stroke="#f2232f" stroke-width="1.15"/>
<circle cx="195.9" cy="416.6" r="1.85" fill="none" stroke="#f2232f" stroke-width="1.15"/>
<circle cx="210" cy="416.6" r="1.85" fill="none" stroke="#f2232f" stroke-width="1.15"/>
<circle cx="177.1" cy="422.5" r="1.85" fill="none" stroke="#f2232f" stroke-width="1.15"/>
<circle cx="172.8" cy="424.1" r="1.85" fill="none" stroke="#f2232f" stroke-width="1.15"/>
<circle cx="170.6" cy="426.3" r="1.85" fill="none" stroke="#f2232f" stroke-width="1.15"/>
<circle cx="175.5" cy="419.8" r="1.85" fill="none" stroke="#f2232f" stroke-width="1.15"/>
<circle cx="214.9" cy="411.4" r="1.85" fill="none" stroke="#f2232f" stroke-width="1.15"/>
<circle cx="210.2" cy="416.5" r="1.85" fill="none" stroke="#f2232f" stroke-width="1.15"/>
<circle cx="223.1" cy="419.8" r="1.85" fill="none" stroke="#f2232f" stroke-width="1.15"/>
<circle cx="229.5" cy="417.6" r="1.85" fill="none" stroke="#f2232f" stroke-width="1.15"/>
<circle cx="243.5" cy="434.8" r="1.85" fill="none" stroke="#f2232f" stroke-width="1.15"/>
<circle cx="244.8" cy="438.1" r="1.85" fill="none" stroke="#f2232f" stroke-width="1.15"/>
<circle cx="250.2" cy="440.2" r="1.85" fill="none" stroke="#f2232f" stroke-width="1.15"/>
<circle cx="251.3" cy="441.1" r="1.85" fill="none" stroke="#f2232f" stroke-width="1.15"/>
<path d="M209.4,371.2h1.4v1.4h1.4v1.4h-1.4v1.4h-1.4v-1.4h-1.4v-1.4h1.4z" fill="#2052b0"/>
<path d="M206.8,378.1h1.4v1.4h1.4v1.4h-1.4v1.4h-1.4v-1.4h-1.4v-1.4h1.4z" fill="#2052b0"/>
<path d="M209.4,376.4h1.4v1.4h1.4v1.4h-1.4v1.4h-1.4v-1.4h-1.4v-1.4h1.4z" fill="#2052b0"/>
<path d="M202.7,387.8h1.4v1.4h1.4v1.4h-1.4v1.4h-1.4v-1.4h-1.4v-1.4h1.4z" fill="#2052b0"/>
<path d="M209.4,389.3h1.4v1.4h1.4v1.4h-1.4v1.4h-1.4v-1.4h-1.4v-1.4h1.4z" fill="#2052b0"/>
<path d="M197,393.4h1.4v1.4h1.4v1.4h-1.4v1.4h-1.4v-1.4h-1.4v-1.4h1.4z" fill="#2052b0"/>
<path d="M202.2,395.5h1.4v1.4h1.4v1.4h-1.4v1.4h-1.4v-1.4h-1.4v-1.4h1.4z" fill="#2052b0"/>
<path d="M196.5,397.1h1.4v1.4h1.4v1.4h-1.4v1.4h-1.4v-1.4h-1.4v-1.4h1.4z" fill="#2052b0"/>
<path d="M215.9,355.2h1.4v1.4h1.4v1.4h-1.4v1.4h-1.4v-1.4h-1.4v-1.4h1.4z" fill="#2052b0"/>
<path d="M214.7,356.7h1.4v1.4h1.4v1.4h-1.4v1.4h-1.4v-1.4h-1.4v-1.4h1.4z" fill="#2052b0"/>
<path d="M214.1,358.3h1.4v1.4h1.4v1.4h-1.4v1.4h-1.4v-1.4h-1.4v-1.4h1.4z" fill="#2052b0"/>
<path d="M166.7,424.2h1.4v1.4h1.4v1.4h-1.4v1.4h-1.4v-1.4h-1.4v-1.4h1.4z" fill="#2052b0"/>
<path d="M169.4,422h1.4v1.4h1.4v1.4h-1.4v1.4h-1.4v-1.4h-1.4v-1.4h1.4z" fill="#2052b0"/>
<path d="M172.1,419.8h1.4v1.4h1.4v1.4h-1.4v1.4h-1.4v-1.4h-1.4v-1.4h1.4z" fill="#2052b0"/>
<path d="M174.8,416.6h1.4v1.4h1.4v1.4h-1.4v1.4h-1.4v-1.4h-1.4v-1.4h1.4z" fill="#2052b0"/>
<path d="M176.9,413.9h1.4v1.4h1.4v1.4h-1.4v1.4h-1.4v-1.4h-1.4v-1.4h1.4z" fill="#2052b0"/>
<path d="M178.5,411.2h1.4v1.4h1.4v1.4h-1.4v1.4h-1.4v-1.4h-1.4v-1.4h1.4z" fill="#2052b0"/>
<path d="M181.8,408h1.4v1.4h1.4v1.4h-1.4v1.4h-1.4v-1.4h-1.4v-1.4h1.4z" fill="#2052b0"/>
<path d="M185,405.3h1.4v1.4h1.4v1.4h-1.4v1.4h-1.4v-1.4h-1.4v-1.4h1.4z" fill="#2052b0"/>
<path d="M188.2,402.6h1.4v1.4h1.4v1.4h-1.4v1.4h-1.4v-1.4h-1.4v-1.4h1.4z" fill="#2052b0"/>
<path d="M192.6,400.4h1.4v1.4h1.4v1.4h-1.4v1.4h-1.4v-1.4h-1.4v-1.4h1.4z" fill="#2052b0"/>
<path d="M193.6,402.1h1.4v1.4h1.4v1.4h-1.4v1.4h-1.4v-1.4h-1.4v-1.4h1.4z" fill="#2052b0"/>
<path d="M192,405.8h1.4v1.4h1.4v1.4h-1.4v1.4h-1.4v-1.4h-1.4v-1.4h1.4z" fill="#2052b0"/>
<path d="M176.4,418.8h1.4v1.4h1.4v1.4h-1.4v1.4h-1.4v-1.4h-1.4v-1.4h1.4z" fill="#2052b0"/>
<path d="M182.9,417.7h1.4v1.4h1.4v1.4h-1.4v1.4h-1.4v-1.4h-1.4v-1.4h1.4z" fill="#2052b0"/>
<path d="M183.9,417.7h1.4v1.4h1.4v1.4h-1.4v1.4h-1.4v-1.4h-1.4v-1.4h1.4z" fill="#2052b0"/>
<path d="M199.6,411.2h1.4v1.4h1.4v1.4h-1.4v1.4h-1.4v-1.4h-1.4v-1.4h1.4z" fill="#2052b0"/>
<path d="M202.3,395.6h1.4v1.4h1.4v1.4h-1.4v1.4h-1.4v-1.4h-1.4v-1.4h1.4z" fill="#2052b0"/>
<path d="M196.9,394h1.4v1.4h1.4v1.4h-1.4v1.4h-1.4v-1.4h-1.4v-1.4h1.4z" fill="#2052b0"/>
<path d="M208.7,404.2h1.4v1.4h1.4v1.4h-1.4v1.4h-1.4v-1.4h-1.4v-1.4h1.4z" fill="#2052b0"/>
<path d="M207.1,410.1h1.4v1.4h1.4v1.4h-1.4v1.4h-1.4v-1.4h-1.4v-1.4h1.4z" fill="#2052b0"/>
<path d="M207.1,411.8h1.4v1.4h1.4v1.4h-1.4v1.4h-1.4v-1.4h-1.4v-1.4h1.4z" fill="#2052b0"/>
<path d="M173.2,422.5h1.4v1.4h1.4v1.4h-1.4v1.4h-1.4v-1.4h-1.4v-1.4h1.4z" fill="#2052b0"/>
<path d="M167.8,425.2h1.4v1.4h1.4v1.4h-1.4v1.4h-1.4v-1.4h-1.4v-1.4h1.4z" fill="#2052b0"/>
<path d="M208.6,404.2h1.4v1.4h1.4v1.4h-1.4v1.4h-1.4v-1.4h-1.4v-1.4h1.4z" fill="#2052b0"/>
<path d="M207,409.6h1.4v1.4h1.4v1.4h-1.4v1.4h-1.4v-1.4h-1.4v-1.4h1.4z" fill="#2052b0"/>
<path d="M207,411.2h1.4v1.4h1.4v1.4h-1.4v1.4h-1.4v-1.4h-1.4v-1.4h1.4z" fill="#2052b0"/>
<path d="M227.4,419.3h1.4v1.4h1.4v1.4h-1.4v1.4h-1.4v-1.4h-1.4v-1.4h1.4z" fill="#2052b0"/>
<path d="M242.5,431.7h1.4v1.4h1.4v1.4h-1.4v1.4h-1.4v-1.4h-1.4v-1.4h1.4z" fill="#2052b0"/>
<path d="M244.7,436.5h1.4v1.4h1.4v1.4h-1.4v1.4h-1.4v-1.4h-1.4v-1.4h1.4z" fill="#2052b0"/>
<path d="M247.9,436.5h1.4v1.4h1.4v1.4h-1.4v1.4h-1.4v-1.4h-1.4v-1.4h1.4z" fill="#2052b0"/>
<path d="M250.6,438.6h1.4v1.4h1.4v1.4h-1.4v1.4h-1.4v-1.4h-1.4v-1.4h1.4z" fill="#2052b0"/>
<rect x="162.5" y="351.9" width="93.5" height="93" fill="none" stroke="#828282" stroke-width="1.3"/>
<line x1="160.3" y1="370.6" x2="162.5" y2="370.6" stroke="#333" stroke-width="0.8"/>
<text x="158.3" y="373.07" font-size="5.5" text-anchor="end" style="stroke-width:0.22px">0.2</text>
<line x1="160.3" y1="390.2" x2="162.5" y2="390.2" stroke="#333" stroke-width="0.8"/>
<text x="158.3" y="392.67" font-size="5.5" text-anchor="end" style="stroke-width:0.22px">0.1</text>
<line x1="160.3" y1="409.8" x2="162.5" y2="409.8" stroke="#333" stroke-width="0.8"/>
<text x="158.3" y="412.27" font-size="5.5" text-anchor="end" style="stroke-width:0.22px">0.0</text>
<line x1="160.3" y1="429.4" x2="162.5" y2="429.4" stroke="#333" stroke-width="0.8"/>
<text x="158.3" y="431.87" font-size="5.5" text-anchor="end" style="stroke-width:0.22px">−0.1</text>
<line x1="174.8" y1="444.9" x2="174.8" y2="447.1" stroke="#333" stroke-width="0.8"/>
<text x="174.8" y="453.16" font-size="5.5" text-anchor="middle" style="stroke-width:0.22px">−0.1</text>
<line x1="197.7" y1="444.9" x2="197.7" y2="447.1" stroke="#333" stroke-width="0.8"/>
<text x="197.7" y="453.16" font-size="5.5" text-anchor="middle" style="stroke-width:0.22px">0.0</text>
<line x1="220.6" y1="444.9" x2="220.6" y2="447.1" stroke="#333" stroke-width="0.8"/>
<text x="220.6" y="453.16" font-size="5.5" text-anchor="middle" style="stroke-width:0.22px">0.1</text>
<line x1="243.5" y1="444.9" x2="243.5" y2="447.1" stroke="#333" stroke-width="0.8"/>
<text x="243.5" y="453.16" font-size="5.5" text-anchor="middle" style="stroke-width:0.22px">0.2</text>
<text x="209.25" y="348.5" font-size="10" text-anchor="middle" style="fill:#111;stroke:#111;stroke-width:0.15px">LLE</text>
<rect x="223.6" y="354.7" width="29.6" height="17.1" rx="1" fill="#fff" fill-opacity="0.8" stroke="#d6d6d6" stroke-width="0.8"/>
<circle cx="231.4" cy="359.32" r="1.85" fill="none" stroke="#f2232f" stroke-width="1.1"/>
<path transform="translate(231.4 367.18) scale(0.9)" d="M-0.7,-2.1h1.4v1.4h1.4v1.4h-1.4v1.4h-1.4v-1.4h-1.4v-1.4h1.4z" fill="#2052b0"/>
<text x="241.3" y="361.64" font-size="5.8">Sti</text>
<text x="241.3" y="369.5" font-size="5.8">Rest</text>
<circle cx="305.5" cy="417.8" r="1.85" fill="none" stroke="#f2232f" stroke-width="1.15"/>
<circle cx="305.5" cy="423.8" r="1.85" fill="none" stroke="#f2232f" stroke-width="1.15"/>
<circle cx="304.8" cy="423.3" r="1.85" fill="none" stroke="#f2232f" stroke-width="1.15"/>
<circle cx="307.2" cy="426.3" r="1.85" fill="none" stroke="#f2232f" stroke-width="1.15"/>
<circle cx="312.6" cy="430.5" r="1.85" fill="none" stroke="#f2232f" stroke-width="1.15"/>
<circle cx="303.8" cy="433" r="1.85" fill="none" stroke="#f2232f" stroke-width="1.15"/>
<circle cx="303.6" cy="436" r="1.85" fill="none" stroke="#f2232f" stroke-width="1.15"/>
<circle cx="307.7" cy="436" r="1.85" fill="none" stroke="#f2232f" stroke-width="1.15"/>
<circle cx="304.3" cy="439.5" r="1.85" fill="none" stroke="#f2232f" stroke-width="1.15"/>
<circle cx="307.2" cy="440.4" r="1.85" fill="none" stroke="#f2232f" stroke-width="1.15"/>
<circle cx="305.8" cy="441.3" r="1.85" fill="none" stroke="#f2232f" stroke-width="1.15"/>
<circle cx="313.3" cy="440.6" r="1.85" fill="none" stroke="#f2232f" stroke-width="1.15"/>
<circle cx="328.6" cy="440.9" r="1.85" fill="none" stroke="#f2232f" stroke-width="1.15"/>
<circle cx="351" cy="440" r="1.85" fill="none" stroke="#f2232f" stroke-width="1.15"/>
<circle cx="353" cy="439.8" r="1.85" fill="none" stroke="#f2232f" stroke-width="1.15"/>
<circle cx="381.1" cy="440.5" r="1.85" fill="none" stroke="#f2232f" stroke-width="1.15"/>
<circle cx="390.1" cy="440" r="1.85" fill="none" stroke="#f2232f" stroke-width="1.15"/>
<path d="M304.5,354.1h1.4v1.4h1.4v1.4h-1.4v1.4h-1.4v-1.4h-1.4v-1.4h1.4z" fill="#2052b0"/>
<path d="M305.6,403.3h1.4v1.4h1.4v1.4h-1.4v1.4h-1.4v-1.4h-1.4v-1.4h1.4z" fill="#2052b0"/>
<path d="M304.8,413.4h1.4v1.4h1.4v1.4h-1.4v1.4h-1.4v-1.4h-1.4v-1.4h1.4z" fill="#2052b0"/>
<path d="M304.4,419.1h1.4v1.4h1.4v1.4h-1.4v1.4h-1.4v-1.4h-1.4v-1.4h1.4z" fill="#2052b0"/>
<path d="M308.1,421.7h1.4v1.4h1.4v1.4h-1.4v1.4h-1.4v-1.4h-1.4v-1.4h1.4z" fill="#2052b0"/>
<path d="M306.8,427.4h1.4v1.4h1.4v1.4h-1.4v1.4h-1.4v-1.4h-1.4v-1.4h1.4z" fill="#2052b0"/>
<path d="M303.9,422.9h1.4v1.4h1.4v1.4h-1.4v1.4h-1.4v-1.4h-1.4v-1.4h1.4z" fill="#2052b0"/>
<path d="M305,424h1.4v1.4h1.4v1.4h-1.4v1.4h-1.4v-1.4h-1.4v-1.4h1.4z" fill="#2052b0"/>
<path d="M306.1,425.1h1.4v1.4h1.4v1.4h-1.4v1.4h-1.4v-1.4h-1.4v-1.4h1.4z" fill="#2052b0"/>
<path d="M303.9,426.2h1.4v1.4h1.4v1.4h-1.4v1.4h-1.4v-1.4h-1.4v-1.4h1.4z" fill="#2052b0"/>
<path d="M305,427.3h1.4v1.4h1.4v1.4h-1.4v1.4h-1.4v-1.4h-1.4v-1.4h1.4z" fill="#2052b0"/>
<path d="M306.1,428.4h1.4v1.4h1.4v1.4h-1.4v1.4h-1.4v-1.4h-1.4v-1.4h1.4z" fill="#2052b0"/>
<path d="M303.9,429.5h1.4v1.4h1.4v1.4h-1.4v1.4h-1.4v-1.4h-1.4v-1.4h1.4z" fill="#2052b0"/>
<path d="M305,430.6h1.4v1.4h1.4v1.4h-1.4v1.4h-1.4v-1.4h-1.4v-1.4h1.4z" fill="#2052b0"/>
<path d="M306.1,431.7h1.4v1.4h1.4v1.4h-1.4v1.4h-1.4v-1.4h-1.4v-1.4h1.4z" fill="#2052b0"/>
<path d="M303.9,432.8h1.4v1.4h1.4v1.4h-1.4v1.4h-1.4v-1.4h-1.4v-1.4h1.4z" fill="#2052b0"/>
<path d="M305,433.9h1.4v1.4h1.4v1.4h-1.4v1.4h-1.4v-1.4h-1.4v-1.4h1.4z" fill="#2052b0"/>
<path d="M306.1,435h1.4v1.4h1.4v1.4h-1.4v1.4h-1.4v-1.4h-1.4v-1.4h1.4z" fill="#2052b0"/>
<path d="M303.9,436.1h1.4v1.4h1.4v1.4h-1.4v1.4h-1.4v-1.4h-1.4v-1.4h1.4z" fill="#2052b0"/>
<path d="M305,437.2h1.4v1.4h1.4v1.4h-1.4v1.4h-1.4v-1.4h-1.4v-1.4h1.4z" fill="#2052b0"/>
<path d="M306.1,438.3h1.4v1.4h1.4v1.4h-1.4v1.4h-1.4v-1.4h-1.4v-1.4h1.4z" fill="#2052b0"/>
<path d="M325.5,436.8h1.4v1.4h1.4v1.4h-1.4v1.4h-1.4v-1.4h-1.4v-1.4h1.4z" fill="#2052b0"/>
<path d="M327,437.8h1.4v1.4h1.4v1.4h-1.4v1.4h-1.4v-1.4h-1.4v-1.4h1.4z" fill="#2052b0"/>
<path d="M324.5,438.3h1.4v1.4h1.4v1.4h-1.4v1.4h-1.4v-1.4h-1.4v-1.4h1.4z" fill="#2052b0"/>
<rect x="300.5" y="351.9" width="93.5" height="93" fill="none" stroke="#828282" stroke-width="1.3"/>
<line x1="298.3" y1="356.1" x2="300.5" y2="356.1" stroke="#333" stroke-width="0.8"/>
<text x="296.3" y="358.57" font-size="5.5" text-anchor="end" style="stroke-width:0.22px">8</text>
<line x1="298.3" y1="375.3" x2="300.5" y2="375.3" stroke="#333" stroke-width="0.8"/>
<text x="296.3" y="377.77" font-size="5.5" text-anchor="end" style="stroke-width:0.22px">6</text>
<line x1="298.3" y1="394.5" x2="300.5" y2="394.5" stroke="#333" stroke-width="0.8"/>
<text x="296.3" y="396.97" font-size="5.5" text-anchor="end" style="stroke-width:0.22px">4</text>
<line x1="298.3" y1="413.7" x2="300.5" y2="413.7" stroke="#333" stroke-width="0.8"/>
<text x="296.3" y="416.17" font-size="5.5" text-anchor="end" style="stroke-width:0.22px">2</text>
<line x1="298.3" y1="432.9" x2="300.5" y2="432.9" stroke="#333" stroke-width="0.8"/>
<text x="296.3" y="435.37" font-size="5.5" text-anchor="end" style="stroke-width:0.22px">0</text>
<line x1="309.5" y1="444.9" x2="309.5" y2="447.1" stroke="#333" stroke-width="0.8"/>
<text x="309.5" y="453.16" font-size="5.5" text-anchor="middle" style="stroke-width:0.22px">0</text>
<line x1="337.4" y1="444.9" x2="337.4" y2="447.1" stroke="#333" stroke-width="0.8"/>
<text x="337.4" y="453.16" font-size="5.5" text-anchor="middle" style="stroke-width:0.22px">2</text>
<line x1="365.4" y1="444.9" x2="365.4" y2="447.1" stroke="#333" stroke-width="0.8"/>
<text x="365.4" y="453.16" font-size="5.5" text-anchor="middle" style="stroke-width:0.22px">4</text>
<line x1="393.3" y1="444.9" x2="393.3" y2="447.1" stroke="#333" stroke-width="0.8"/>
<text x="393.3" y="453.16" font-size="5.5" text-anchor="middle" style="stroke-width:0.22px">6</text>
<text x="347.25" y="348.5" font-size="10" text-anchor="middle" style="fill:#111;stroke:#111;stroke-width:0.15px">RLS-CSP</text>
<rect x="361.5" y="354.4" width="30.1" height="17.1" rx="1" fill="#fff" fill-opacity="0.8" stroke="#d6d6d6" stroke-width="0.8"/>
<circle cx="369.3" cy="359.02" r="1.85" fill="none" stroke="#f2232f" stroke-width="1.1"/>
<path transform="translate(369.3 366.88) scale(0.9)" d="M-0.7,-2.1h1.4v1.4h1.4v1.4h-1.4v1.4h-1.4v-1.4h-1.4v-1.4h1.4z" fill="#2052b0"/>
<text x="379.2" y="361.34" font-size="5.8">Sti</text>
<text x="379.2" y="369.2" font-size="5.8">Rest</text>
<path d="M468.4,354.1h1.4v1.4h1.4v1.4h-1.4v1.4h-1.4v-1.4h-1.4v-1.4h1.4z" fill="#2052b0"/>
<path d="M466.1,365h1.4v1.4h1.4v1.4h-1.4v1.4h-1.4v-1.4h-1.4v-1.4h1.4z" fill="#2052b0"/>
<path d="M453.3,420.1h1.4v1.4h1.4v1.4h-1.4v1.4h-1.4v-1.4h-1.4v-1.4h1.4z" fill="#2052b0"/>
<path d="M464.5,420.5h1.4v1.4h1.4v1.4h-1.4v1.4h-1.4v-1.4h-1.4v-1.4h1.4z" fill="#2052b0"/>
<path d="M451.4,426.1h1.4v1.4h1.4v1.4h-1.4v1.4h-1.4v-1.4h-1.4v-1.4h1.4z" fill="#2052b0"/>
<path d="M445,432h1.4v1.4h1.4v1.4h-1.4v1.4h-1.4v-1.4h-1.4v-1.4h1.4z" fill="#2052b0"/>
<path d="M450.5,431.5h1.4v1.4h1.4v1.4h-1.4v1.4h-1.4v-1.4h-1.4v-1.4h1.4z" fill="#2052b0"/>
<path d="M451.8,432.9h1.4v1.4h1.4v1.4h-1.4v1.4h-1.4v-1.4h-1.4v-1.4h1.4z" fill="#2052b0"/>
<path d="M453.2,433.8h1.4v1.4h1.4v1.4h-1.4v1.4h-1.4v-1.4h-1.4v-1.4h1.4z" fill="#2052b0"/>
<path d="M448.2,434.7h1.4v1.4h1.4v1.4h-1.4v1.4h-1.4v-1.4h-1.4v-1.4h1.4z" fill="#2052b0"/>
<path d="M449.6,435.6h1.4v1.4h1.4v1.4h-1.4v1.4h-1.4v-1.4h-1.4v-1.4h1.4z" fill="#2052b0"/>
<path d="M441.1,438.3h1.4v1.4h1.4v1.4h-1.4v1.4h-1.4v-1.4h-1.4v-1.4h1.4z" fill="#2052b0"/>
<path d="M442,438.49h1.4v1.4h1.4v1.4h-1.4v1.4h-1.4v-1.4h-1.4v-1.4h1.4z" fill="#2052b0"/>
<path d="M442.9,438.57h1.4v1.4h1.4v1.4h-1.4v1.4h-1.4v-1.4h-1.4v-1.4h1.4z" fill="#2052b0"/>
<path d="M443.8,438.81h1.4v1.4h1.4v1.4h-1.4v1.4h-1.4v-1.4h-1.4v-1.4h1.4z" fill="#2052b0"/>
<path d="M444.7,438.48h1.4v1.4h1.4v1.4h-1.4v1.4h-1.4v-1.4h-1.4v-1.4h1.4z" fill="#2052b0"/>
<path d="M445.6,438.78h1.4v1.4h1.4v1.4h-1.4v1.4h-1.4v-1.4h-1.4v-1.4h1.4z" fill="#2052b0"/>
<path d="M446.5,437.35h1.4v1.4h1.4v1.4h-1.4v1.4h-1.4v-1.4h-1.4v-1.4h1.4z" fill="#2052b0"/>
<path d="M447.4,438.04h1.4v1.4h1.4v1.4h-1.4v1.4h-1.4v-1.4h-1.4v-1.4h1.4z" fill="#2052b0"/>
<path d="M448.3,438.81h1.4v1.4h1.4v1.4h-1.4v1.4h-1.4v-1.4h-1.4v-1.4h1.4z" fill="#2052b0"/>
<path d="M449.2,438.34h1.4v1.4h1.4v1.4h-1.4v1.4h-1.4v-1.4h-1.4v-1.4h1.4z" fill="#2052b0"/>
<path d="M450.1,438.74h1.4v1.4h1.4v1.4h-1.4v1.4h-1.4v-1.4h-1.4v-1.4h1.4z" fill="#2052b0"/>
<path d="M451,437.48h1.4v1.4h1.4v1.4h-1.4v1.4h-1.4v-1.4h-1.4v-1.4h1.4z" fill="#2052b0"/>
<path d="M451.9,438.05h1.4v1.4h1.4v1.4h-1.4v1.4h-1.4v-1.4h-1.4v-1.4h1.4z" fill="#2052b0"/>
<circle cx="449.8" cy="439.95" r="1.85" fill="none" stroke="#f2232f" stroke-width="1.15"/>
<circle cx="450.85" cy="440.36" r="1.85" fill="none" stroke="#f2232f" stroke-width="1.15"/>
<circle cx="451.9" cy="440.4" r="1.85" fill="none" stroke="#f2232f" stroke-width="1.15"/>
<circle cx="452.95" cy="439.62" r="1.85" fill="none" stroke="#f2232f" stroke-width="1.15"/>
<circle cx="454" cy="439.9" r="1.85" fill="none" stroke="#f2232f" stroke-width="1.15"/>
<circle cx="455.05" cy="439.99" r="1.85" fill="none" stroke="#f2232f" stroke-width="1.15"/>
<circle cx="456.1" cy="440.88" r="1.85" fill="none" stroke="#f2232f" stroke-width="1.15"/>
<circle cx="457.15" cy="440.67" r="1.85" fill="none" stroke="#f2232f" stroke-width="1.15"/>
<circle cx="458.2" cy="439.82" r="1.85" fill="none" stroke="#f2232f" stroke-width="1.15"/>
<circle cx="459.25" cy="440.72" r="1.85" fill="none" stroke="#f2232f" stroke-width="1.15"/>
<circle cx="460.3" cy="439.79" r="1.85" fill="none" stroke="#f2232f" stroke-width="1.15"/>
<circle cx="461.35" cy="440.46" r="1.85" fill="none" stroke="#f2232f" stroke-width="1.15"/>
<circle cx="462.4" cy="439.78" r="1.85" fill="none" stroke="#f2232f" stroke-width="1.15"/>
<circle cx="463.45" cy="439.6" r="1.85" fill="none" stroke="#f2232f" stroke-width="1.15"/>
<circle cx="464.5" cy="440.82" r="1.85" fill="none" stroke="#f2232f" stroke-width="1.15"/>
<circle cx="465.55" cy="439.77" r="1.85" fill="none" stroke="#f2232f" stroke-width="1.15"/>
<circle cx="466.6" cy="439.66" r="1.85" fill="none" stroke="#f2232f" stroke-width="1.15"/>
<circle cx="467.65" cy="440.62" r="1.85" fill="none" stroke="#f2232f" stroke-width="1.15"/>
<circle cx="468.7" cy="440.34" r="1.85" fill="none" stroke="#f2232f" stroke-width="1.15"/>
<circle cx="469.75" cy="439.41" r="1.85" fill="none" stroke="#f2232f" stroke-width="1.15"/>
<circle cx="470.8" cy="440.23" r="1.85" fill="none" stroke="#f2232f" stroke-width="1.15"/>
<circle cx="473.5" cy="437.7" r="1.85" fill="none" stroke="#f2232f" stroke-width="1.15"/>
<circle cx="474.8" cy="435.9" r="1.85" fill="none" stroke="#f2232f" stroke-width="1.15"/>
<circle cx="478.5" cy="439.5" r="1.85" fill="none" stroke="#f2232f" stroke-width="1.15"/>
<circle cx="480.3" cy="437.7" r="1.85" fill="none" stroke="#f2232f" stroke-width="1.15"/>
<circle cx="482.5" cy="436.8" r="1.85" fill="none" stroke="#f2232f" stroke-width="1.15"/>
<circle cx="485.3" cy="438.2" r="1.85" fill="none" stroke="#f2232f" stroke-width="1.15"/>
<circle cx="528" cy="407" r="1.85" fill="none" stroke="#f2232f" stroke-width="1.15"/>
<circle cx="513" cy="424" r="1.85" fill="none" stroke="#f2232f" stroke-width="1.15"/>
<circle cx="524.5" cy="428.5" r="1.85" fill="none" stroke="#f2232f" stroke-width="1.15"/>
<circle cx="512" cy="435" r="1.85" fill="none" stroke="#f2232f" stroke-width="1.15"/>
<circle cx="489.8" cy="433.3" r="1.85" fill="none" stroke="#f2232f" stroke-width="1.15"/>
<circle cx="484.8" cy="437.8" r="1.85" fill="none" stroke="#f2232f" stroke-width="1.15"/>
<circle cx="481.8" cy="437" r="1.85" fill="none" stroke="#f2232f" stroke-width="1.15"/>
<circle cx="480.5" cy="438" r="1.85" fill="none" stroke="#f2232f" stroke-width="1.15"/>
<circle cx="497.5" cy="438.5" r="1.85" fill="none" stroke="#f2232f" stroke-width="1.15"/>
<rect x="438.6" y="351.9" width="93.5" height="93" fill="none" stroke="#828282" stroke-width="1.3"/>
<line x1="436.4" y1="354.6" x2="438.6" y2="354.6" stroke="#333" stroke-width="0.8"/>
<text x="434.4" y="357.07" font-size="5.5" text-anchor="end" style="stroke-width:0.22px">7</text>
<line x1="436.4" y1="366.33" x2="438.6" y2="366.33" stroke="#333" stroke-width="0.8"/>
<text x="434.4" y="368.8" font-size="5.5" text-anchor="end" style="stroke-width:0.22px">6</text>
<line x1="436.4" y1="378.06" x2="438.6" y2="378.06" stroke="#333" stroke-width="0.8"/>
<text x="434.4" y="380.53" font-size="5.5" text-anchor="end" style="stroke-width:0.22px">5</text>
<line x1="436.4" y1="389.79" x2="438.6" y2="389.79" stroke="#333" stroke-width="0.8"/>
<text x="434.4" y="392.26" font-size="5.5" text-anchor="end" style="stroke-width:0.22px">4</text>
<line x1="436.4" y1="401.52" x2="438.6" y2="401.52" stroke="#333" stroke-width="0.8"/>
<text x="434.4" y="403.99" font-size="5.5" text-anchor="end" style="stroke-width:0.22px">3</text>
<line x1="436.4" y1="413.25" x2="438.6" y2="413.25" stroke="#333" stroke-width="0.8"/>
<text x="434.4" y="415.72" font-size="5.5" text-anchor="end" style="stroke-width:0.22px">2</text>
<line x1="436.4" y1="424.98" x2="438.6" y2="424.98" stroke="#333" stroke-width="0.8"/>
<text x="434.4" y="427.45" font-size="5.5" text-anchor="end" style="stroke-width:0.22px">1</text>
<line x1="436.4" y1="436.71" x2="438.6" y2="436.71" stroke="#333" stroke-width="0.8"/>
<text x="434.4" y="439.18" font-size="5.5" text-anchor="end" style="stroke-width:0.22px">0</text>
<line x1="457.2" y1="444.9" x2="457.2" y2="447.1" stroke="#333" stroke-width="0.8"/>
<text x="457.2" y="453.16" font-size="5.5" text-anchor="middle" style="stroke-width:0.22px">0</text>
<line x1="491.3" y1="444.9" x2="491.3" y2="447.1" stroke="#333" stroke-width="0.8"/>
<text x="491.3" y="453.16" font-size="5.5" text-anchor="middle" style="stroke-width:0.22px">2</text>
<line x1="525.4" y1="444.9" x2="525.4" y2="447.1" stroke="#333" stroke-width="0.8"/>
<text x="525.4" y="453.16" font-size="5.5" text-anchor="middle" style="stroke-width:0.22px">4</text>
<text x="485.35" y="348.5" font-size="10" text-anchor="middle" style="fill:#111;stroke:#111;stroke-width:0.15px">RLLFC</text>
<rect x="499.5" y="354.4" width="30.1" height="17.1" rx="1" fill="#fff" fill-opacity="0.8" stroke="#d6d6d6" stroke-width="0.8"/>
<circle cx="507.3" cy="359.02" r="1.85" fill="none" stroke="#f2232f" stroke-width="1.1"/>
<path transform="translate(507.3 366.88) scale(0.9)" d="M-0.7,-2.1h1.4v1.4h1.4v1.4h-1.4v1.4h-1.4v-1.4h-1.4v-1.4h1.4z" fill="#2052b0"/>
<text x="517.2" y="361.34" font-size="5.8">Sti</text>
<text x="517.2" y="369.2" font-size="5.8">Rest</text>
</svg></body></html>
